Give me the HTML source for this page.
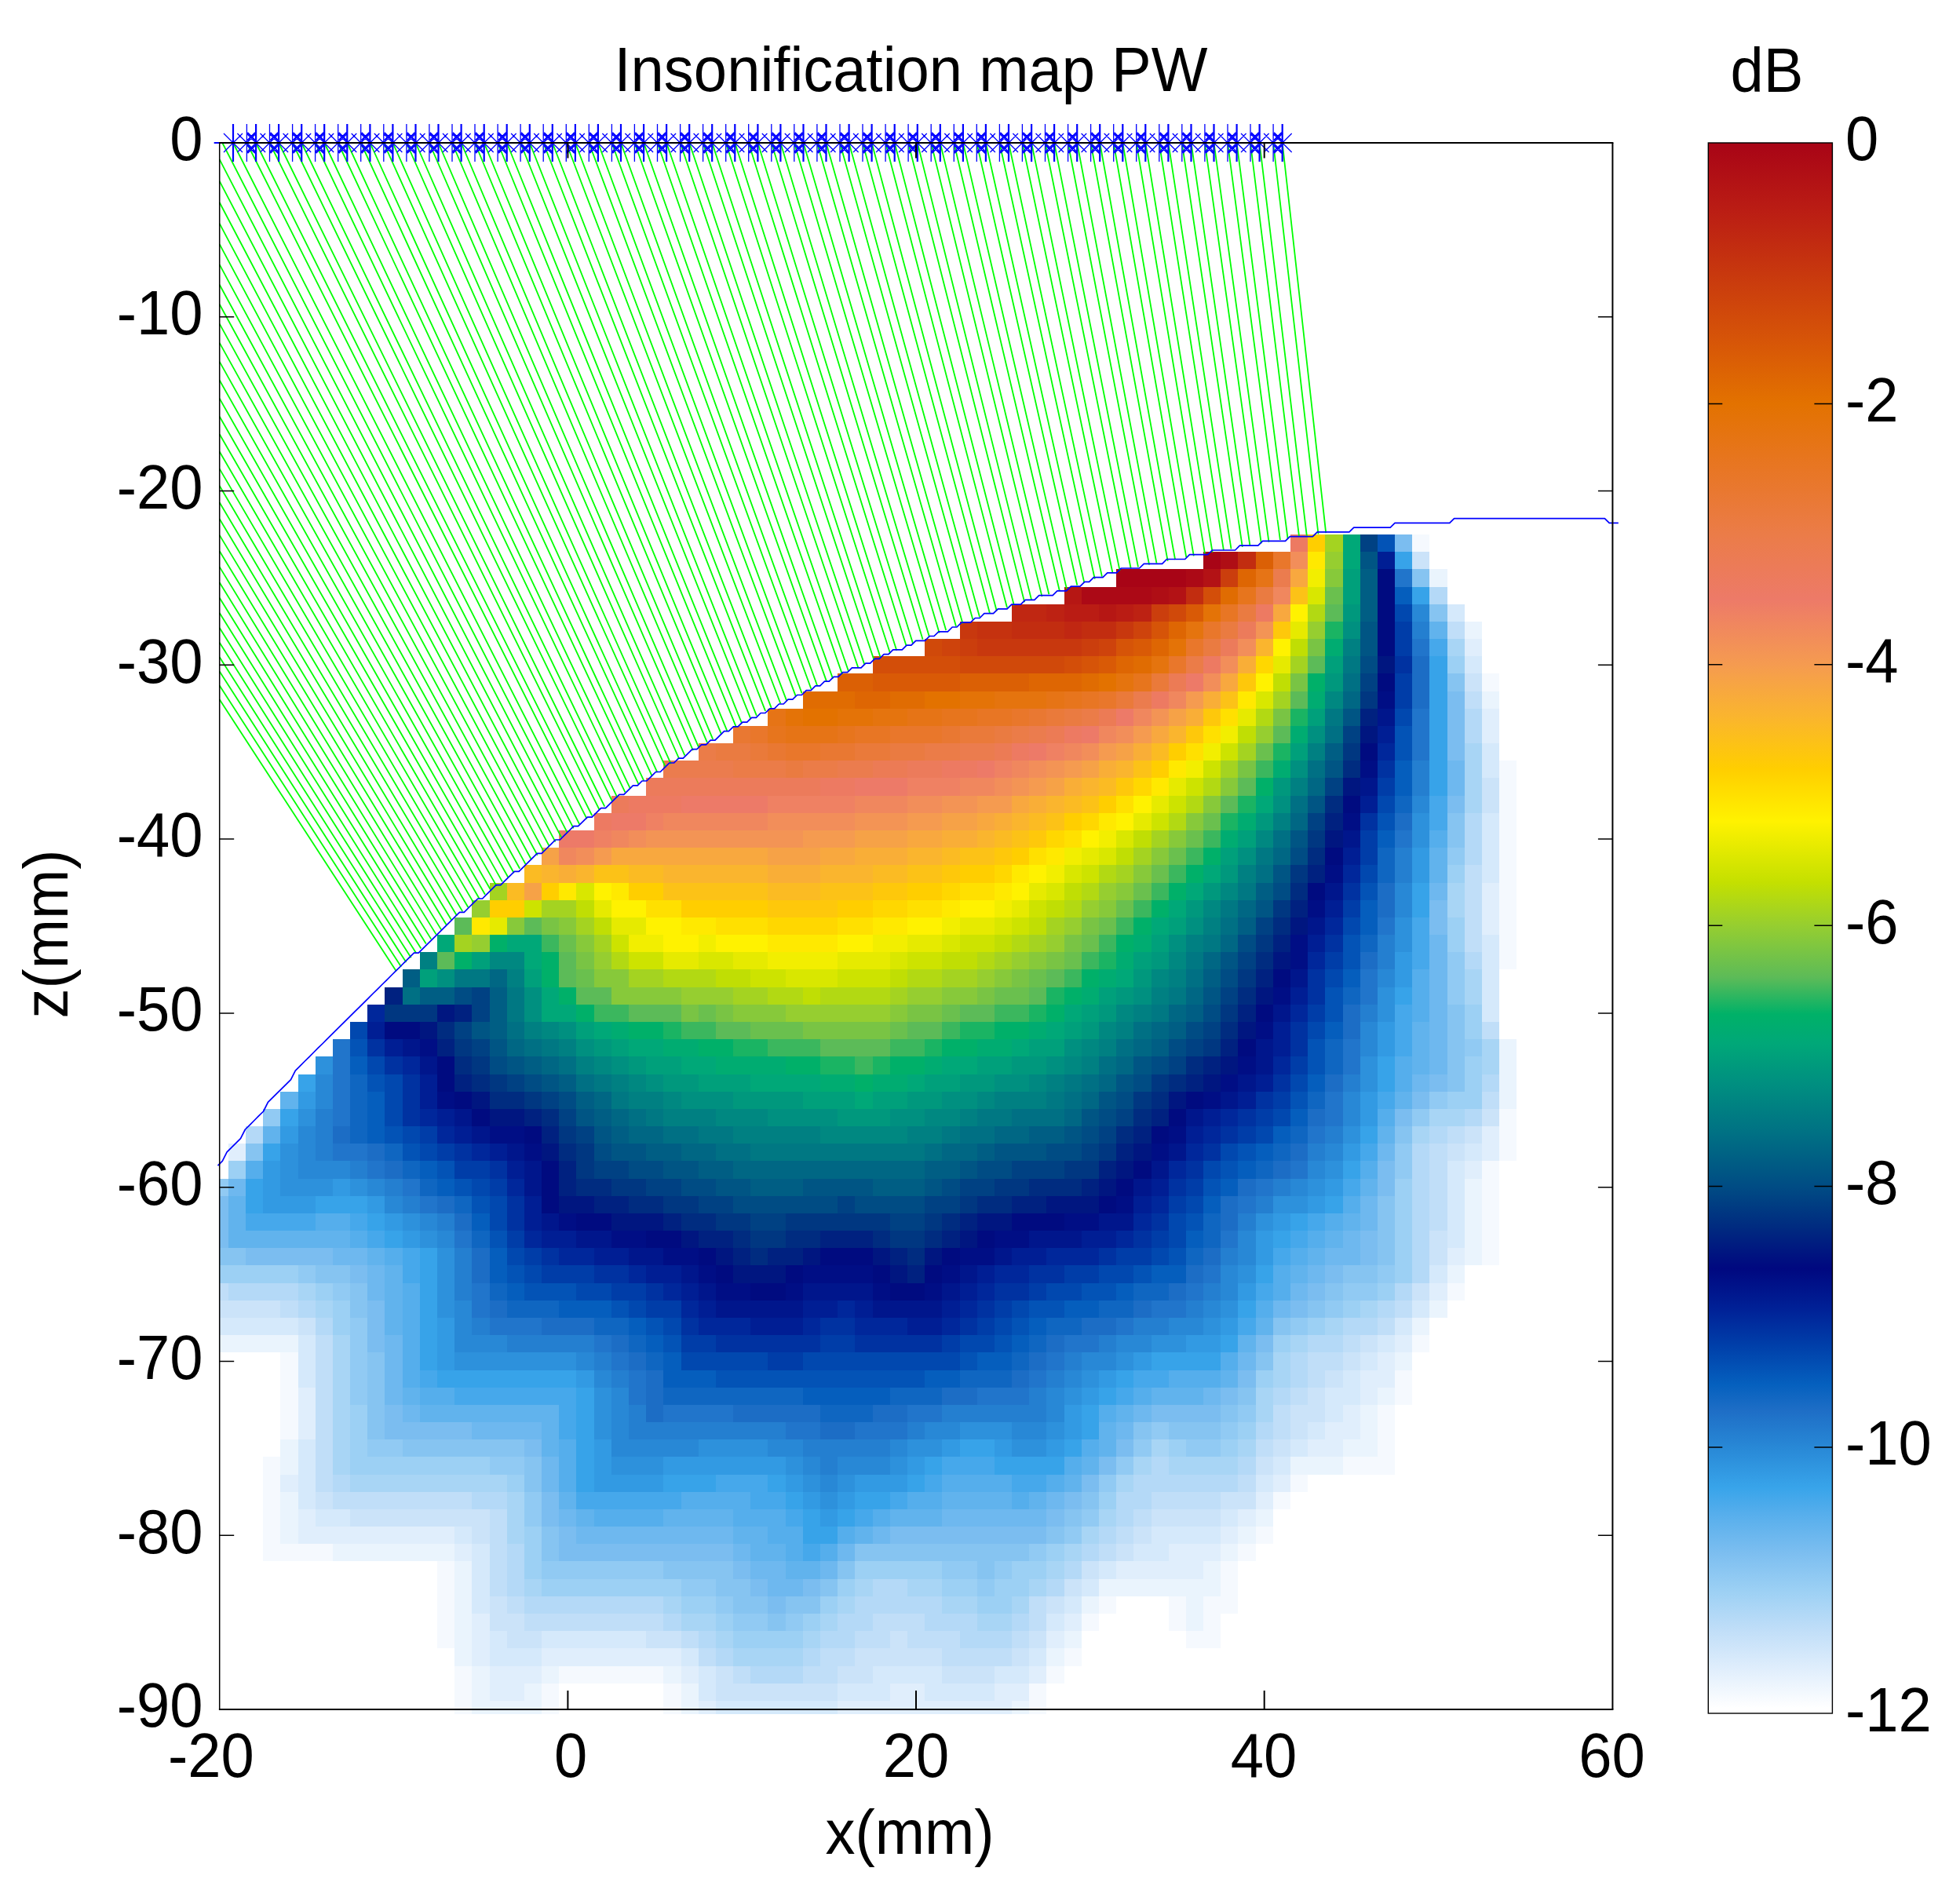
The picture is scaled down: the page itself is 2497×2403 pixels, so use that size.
<!DOCTYPE html>
<html><head><meta charset="utf-8"><title>Insonification map PW</title>
<style>html,body{margin:0;padding:0;background:#fff}svg{display:block}text{font-family:"Liberation Sans",sans-serif;fill:#000}</style></head><body>
<svg width="2497" height="2403" viewBox="0 0 2497 2403">
<rect width="2497" height="2403" fill="#fff"/>
<g shape-rendering="crispEdges">
<path fill="#f5f9fe" d="M1799 681h22v22h-22zM1888 858h22v23h-22zM1910 969h22v22h-22zM1910 991h22v23h-22zM1910 1014h22v22h-22zM1910 1036h22v22h-22zM1910 1058h22v22h-22zM1910 1080h22v22h-22zM1910 1102h22v23h-22zM1910 1125h22v22h-22zM1910 1147h22v22h-22zM1910 1169h22v22h-22zM1910 1191h22v22h-22zM1910 1213h22v22h-22zM1910 1413h22v22h-22zM1910 1435h22v22h-22zM1910 1457h22v22h-22zM1888 1479h22v23h-22zM1888 1502h22v22h-22zM1888 1524h22v22h-22zM1888 1546h22v22h-22zM1888 1568h22v22h-22zM1888 1590h22v22h-22zM1844 1635h22v22h-22zM1799 1701h22v22h-22zM357 1723h23v23h-23zM357 1746h23v22h-23zM1777 1746h22v22h-22zM357 1768h23v22h-23zM1777 1768h22v22h-22zM357 1790h23v22h-23zM1755 1790h22v22h-22zM357 1812h23v22h-23zM1755 1812h22v22h-22zM1755 1834h22v22h-22zM335 1856h22v23h-22zM1711 1856h66v23h-66zM335 1879h22v22h-22zM1644 1879h22v22h-22zM335 1901h22v22h-22zM1622 1901h22v22h-22zM335 1923h22v22h-22zM335 1945h22v22h-22zM1600 1945h22v22h-22zM335 1967h89v22h-89zM1577 1967h23v22h-23zM557 1989h22v23h-22zM1555 1989h22v23h-22zM557 2012h22v22h-22zM1555 2012h22v22h-22zM557 2034h22v22h-22zM1400 2034h22v22h-22zM1489 2034h22v22h-22zM1533 2034h44v22h-44zM557 2056h22v22h-22zM1378 2056h22v22h-22zM1489 2056h22v22h-22zM1533 2056h22v22h-22zM557 2078h22v22h-22zM1511 2078h44v22h-44zM1356 2100h22v23h-22zM579 2123h22v22h-22zM712 2123h133v22h-133zM1333 2123h23v22h-23zM579 2145h22v22h-22zM690 2145h22v22h-22zM845 2145h23v22h-23zM1311 2145h22v22h-22zM579 2167h22v17h-22zM690 2167h22v17h-22zM845 2167h23v17h-23zM1311 2167h22v17h-22z"/>
<path fill="#eaf4fd" d="M1821 725h23v23h-23zM1866 792h22v22h-22zM1888 881h22v22h-22zM1910 1324h22v22h-22zM1910 1346h22v23h-22zM1910 1369h22v22h-22zM1910 1391h22v22h-22zM1866 1502h22v22h-22zM1866 1524h22v22h-22zM1866 1546h22v22h-22zM1866 1568h22v22h-22zM1866 1590h22v22h-22zM1844 1612h22v23h-22zM1821 1657h23v22h-23zM1799 1679h22v22h-22zM280 1701h100v22h-100zM1777 1723h22v23h-22zM1755 1768h22v22h-22zM1733 1790h22v22h-22zM1733 1812h22v22h-22zM357 1834h23v22h-23zM1711 1834h44v22h-44zM357 1856h23v23h-23zM1644 1856h67v23h-67zM357 1901h23v22h-23zM357 1923h23v22h-23zM1600 1923h22v22h-22zM357 1945h23v22h-23zM1577 1945h23v22h-23zM424 1967h155v22h-155zM1555 1967h22v22h-22zM579 1989h22v23h-22zM1533 1989h22v23h-22zM579 2012h22v22h-22zM1400 2012h155v22h-155zM579 2034h22v22h-22zM1378 2034h22v22h-22zM1511 2034h22v22h-22zM579 2056h22v22h-22zM1511 2056h22v22h-22zM579 2078h22v22h-22zM1356 2078h22v22h-22zM579 2100h22v23h-22zM1333 2100h23v23h-23zM601 2123h23v22h-23zM690 2123h22v22h-22zM845 2123h23v22h-23zM601 2145h23v22h-23zM668 2145h22v22h-22zM868 2145h22v22h-22zM601 2167h89v17h-89zM868 2167h22v17h-22zM1289 2167h22v17h-22z"/>
<path fill="#e0eefc" d="M1866 814h22v22h-22zM1888 903h22v22h-22zM1888 925h22v22h-22zM1888 1125h22v22h-22zM1888 1147h22v22h-22zM1888 1169h22v22h-22zM1888 1435h22v22h-22zM291 1457h22v22h-22zM1888 1457h22v22h-22zM1866 1479h22v23h-22zM1844 1590h22v22h-22zM1821 1635h23v22h-23zM1777 1701h22v22h-22zM1755 1723h22v23h-22zM1733 1746h44v22h-44zM380 1768h22v22h-22zM1733 1768h22v22h-22zM380 1790h22v22h-22zM1711 1790h22v22h-22zM380 1812h22v22h-22zM1688 1812h45v22h-45zM1666 1834h45v22h-45zM357 1879h23v22h-23zM1622 1879h22v22h-22zM1600 1901h22v22h-22zM380 1923h22v22h-22zM1577 1923h23v22h-23zM380 1945h199v22h-199zM1555 1945h22v22h-22zM579 1967h22v22h-22zM1489 1967h66v22h-66zM1422 1989h111v23h-111zM601 2056h23v22h-23zM1356 2056h22v22h-22zM601 2078h23v22h-23zM1333 2078h23v22h-23zM601 2100h23v23h-23zM690 2100h178v23h-178zM624 2123h66v22h-66zM868 2123h22v22h-22zM1311 2123h22v22h-22zM624 2145h44v22h-44zM1134 2145h44v22h-44zM1267 2145h44v22h-44zM890 2167h22v17h-22zM1067 2167h222v17h-222z"/>
<path fill="#d5e9fb" d="M1844 770h22v22h-22zM1866 836h22v22h-22zM1888 947h22v22h-22zM1888 969h22v22h-22zM1888 1036h22v22h-22zM1888 1058h22v22h-22zM1888 1080h22v22h-22zM1888 1102h22v23h-22zM1888 1191h22v22h-22zM1888 1213h22v22h-22zM1888 1235h22v23h-22zM1888 1258h22v22h-22zM1888 1280h22v22h-22zM1866 1457h22v22h-22zM1844 1479h22v23h-22zM1844 1502h22v22h-22zM1844 1524h22v22h-22zM1844 1546h22v22h-22zM1844 1568h22v22h-22zM1821 1612h23v23h-23zM1799 1657h22v22h-22zM280 1679h100v22h-100zM1777 1679h22v22h-22zM380 1701h22v22h-22zM1755 1701h22v22h-22zM380 1723h22v23h-22zM1733 1723h22v23h-22zM380 1746h22v22h-22zM1711 1746h22v22h-22zM1688 1768h45v22h-45zM1688 1790h23v22h-23zM1666 1812h22v22h-22zM380 1834h22v22h-22zM1644 1834h22v22h-22zM380 1856h22v23h-22zM1622 1856h22v23h-22zM380 1879h22v22h-22zM1600 1879h22v22h-22zM380 1901h22v22h-22zM402 1923h44v22h-44zM1555 1923h22v22h-22zM579 1945h22v22h-22zM1467 1945h88v22h-88zM601 1967h23v22h-23zM1444 1967h45v22h-45zM601 1989h23v23h-23zM1400 1989h22v23h-22zM601 2012h23v22h-23zM1378 2012h22v22h-22zM601 2034h23v22h-23zM1356 2034h22v22h-22zM1333 2056h23v22h-23zM624 2078h22v22h-22zM690 2078h133v22h-133zM624 2100h66v23h-66zM868 2100h22v23h-22zM1311 2100h22v23h-22zM890 2123h22v22h-22zM1112 2123h88v22h-88zM1267 2123h44v22h-44zM890 2145h22v22h-22zM1067 2145h67v22h-67zM1178 2145h89v22h-89zM912 2167h155v17h-155z"/>
<path fill="#cbe3f9" d="M1799 703h22v22h-22zM1866 858h22v23h-22zM1888 991h22v23h-22zM1888 1014h22v22h-22zM1888 1413h22v22h-22zM1866 1435h22v22h-22zM1844 1457h22v22h-22zM1821 1568h23v22h-23zM1821 1590h23v22h-23zM1799 1635h22v22h-22zM280 1657h77v22h-77zM380 1679h22v22h-22zM1733 1701h22v22h-22zM1711 1723h22v23h-22zM1688 1746h23v22h-23zM1666 1768h22v22h-22zM1644 1790h44v22h-44zM1644 1812h22v22h-22zM1622 1834h22v22h-22zM1600 1856h22v23h-22zM402 1901h22v22h-22zM1555 1901h45v22h-45zM446 1923h178v22h-178zM1467 1923h88v22h-88zM601 1945h23v22h-23zM1444 1945h23v22h-23zM1422 1967h22v22h-22zM1378 1989h22v23h-22zM1356 2012h22v22h-22zM624 2034h22v22h-22zM1333 2034h23v22h-23zM624 2056h44v22h-44zM646 2078h44v22h-44zM823 2078h45v22h-45zM1134 2078h22v22h-22zM1311 2078h22v22h-22zM1089 2100h111v23h-111zM1289 2100h22v23h-22zM912 2123h22v22h-22zM1067 2123h45v22h-45zM1200 2123h67v22h-67zM912 2145h155v22h-155z"/>
<path fill="#c0def8" d="M1844 792h22v22h-22zM1866 881h22v22h-22zM1866 1102h22v23h-22zM1866 1125h22v22h-22zM1866 1147h22v22h-22zM1866 1169h22v22h-22zM1866 1191h22v22h-22zM1888 1302h22v22h-22zM1888 1391h22v22h-22zM1844 1435h22v22h-22zM1821 1457h23v22h-23zM1821 1479h23v23h-23zM1821 1502h23v22h-23zM1821 1524h23v22h-23zM1821 1546h23v22h-23zM280 1635h11v22h-11zM357 1657h23v22h-23zM1777 1657h22v22h-22zM1755 1679h22v22h-22zM402 1701h22v22h-22zM1711 1701h22v22h-22zM402 1723h22v23h-22zM1666 1723h45v23h-45zM402 1746h22v22h-22zM1666 1746h22v22h-22zM402 1768h22v22h-22zM1644 1768h22v22h-22zM402 1790h22v22h-22zM1622 1790h22v22h-22zM402 1812h22v22h-22zM1622 1812h22v22h-22zM402 1834h22v22h-22zM1600 1834h22v22h-22zM402 1856h22v23h-22zM402 1879h22v22h-22zM1577 1879h23v22h-23zM424 1901h177v22h-177zM1467 1901h88v22h-88zM624 1923h22v22h-22zM1444 1923h23v22h-23zM624 1945h22v22h-22zM1422 1945h22v22h-22zM624 1967h22v22h-22zM1400 1967h22v22h-22zM624 1989h22v23h-22zM624 2012h22v22h-22zM646 2034h22v22h-22zM1311 2034h22v22h-22zM668 2056h177v22h-177zM1112 2056h66v22h-66zM1311 2056h22v22h-22zM868 2078h22v22h-22zM1089 2078h45v22h-45zM1156 2078h67v22h-67zM1289 2078h22v22h-22zM890 2100h22v23h-22zM1045 2100h44v23h-44zM1200 2100h89v23h-89zM934 2123h22v22h-22zM1023 2123h44v22h-44z"/>
<path fill="#b4d9f7" d="M1821 748h23v22h-23zM1866 903h22v22h-22zM1866 925h22v22h-22zM1866 1036h22v22h-22zM1866 1058h22v22h-22zM1866 1080h22v22h-22zM1866 1213h22v22h-22zM1888 1369h22v22h-22zM1866 1413h22v22h-22zM313 1435h22v22h-22zM1821 1435h23v22h-23zM1799 1457h22v22h-22zM1799 1479h22v23h-22zM1799 1502h22v22h-22zM1799 1524h22v22h-22zM1799 1546h22v22h-22zM1799 1568h22v22h-22zM1799 1590h22v22h-22zM1799 1612h22v23h-22zM291 1635h89v22h-89zM1777 1635h22v22h-22zM380 1657h22v22h-22zM1755 1657h22v22h-22zM402 1679h22v22h-22zM1711 1679h44v22h-44zM1666 1701h45v22h-45zM1644 1723h22v23h-22zM1644 1746h22v22h-22zM1622 1768h22v22h-22zM1600 1812h22v22h-22zM1467 1856h22v23h-22zM1577 1856h23v23h-23zM424 1879h22v22h-22zM1444 1879h133v22h-133zM601 1901h45v22h-45zM1422 1901h45v22h-45zM1422 1923h22v22h-22zM1400 1945h22v22h-22zM646 1967h22v22h-22zM1378 1967h22v22h-22zM646 1989h22v23h-22zM1356 1989h22v23h-22zM646 2012h22v22h-22zM1112 2012h44v22h-44zM1333 2012h23v22h-23zM668 2034h177v22h-177zM1089 2034h111v22h-111zM845 2056h23v22h-23zM1067 2056h45v22h-45zM1178 2056h67v22h-67zM1289 2056h22v22h-22zM890 2078h22v22h-22zM1045 2078h44v22h-44zM1223 2078h66v22h-66zM912 2100h22v23h-22zM1023 2100h22v23h-22zM956 2123h67v22h-67z"/>
<path fill="#a8d5f5" d="M1844 814h22v22h-22zM1866 947h22v22h-22zM1866 969h22v22h-22zM1866 991h22v23h-22zM1866 1014h22v22h-22zM1844 1125h22v22h-22zM1844 1147h22v22h-22zM1866 1235h22v23h-22zM1866 1258h22v22h-22zM1888 1324h22v22h-22zM1888 1346h22v23h-22zM1821 1413h45v22h-45zM1799 1435h22v22h-22zM380 1635h22v22h-22zM402 1657h22v22h-22zM1733 1657h22v22h-22zM1688 1679h23v22h-23zM424 1701h22v22h-22zM1644 1701h22v22h-22zM424 1723h22v23h-22zM1622 1723h22v23h-22zM424 1746h22v22h-22zM1622 1746h22v22h-22zM424 1768h22v22h-22zM1600 1768h22v22h-22zM424 1790h22v22h-22zM1600 1790h22v22h-22zM424 1812h22v22h-22zM424 1834h22v22h-22zM1467 1834h22v22h-22zM1577 1834h23v22h-23zM424 1856h22v23h-22zM1444 1856h23v23h-23zM1489 1856h88v23h-88zM446 1879h200v22h-200zM1422 1879h22v22h-22zM646 1901h22v22h-22zM646 1923h22v22h-22zM1400 1923h22v22h-22zM646 1945h22v22h-22zM1378 1945h22v22h-22zM1356 1967h22v22h-22zM1333 1989h23v23h-23zM668 2012h22v22h-22zM1089 2012h23v22h-23zM1156 2012h44v22h-44zM1311 2012h22v22h-22zM845 2034h23v22h-23zM1067 2034h22v22h-22zM1200 2034h45v22h-45zM1289 2034h22v22h-22zM868 2056h44v22h-44zM1045 2056h22v22h-22zM1245 2056h44v22h-44zM912 2078h22v22h-22zM1023 2078h22v22h-22zM934 2100h89v23h-89z"/>
<path fill="#9cd0f4" d="M1844 836h22v22h-22zM1844 1102h22v23h-22zM1844 1169h22v22h-22zM1844 1191h22v22h-22zM1866 1280h22v22h-22zM1866 1302h22v22h-22zM1866 1346h22v23h-22zM1866 1369h22v22h-22zM1844 1391h44v22h-44zM291 1479h22v23h-22zM1777 1502h22v22h-22zM1777 1524h22v22h-22zM1777 1546h22v22h-22zM1777 1568h22v22h-22zM1777 1590h22v22h-22zM280 1612h100v23h-100zM1777 1612h22v23h-22zM402 1635h22v22h-22zM1755 1635h22v22h-22zM424 1657h22v22h-22zM1711 1657h22v22h-22zM424 1679h22v22h-22zM1666 1679h22v22h-22zM1622 1701h22v22h-22zM1600 1746h22v22h-22zM446 1790h22v22h-22zM446 1812h22v22h-22zM1577 1812h23v22h-23zM446 1834h22v22h-22zM1489 1834h22v22h-22zM1555 1834h22v22h-22zM446 1856h178v23h-178zM646 1879h22v22h-22zM1400 1901h22v22h-22zM668 1945h22v22h-22zM668 1967h22v22h-22zM1333 1967h23v22h-23zM668 1989h22v23h-22zM1089 1989h111v23h-111zM1289 1989h44v23h-44zM690 2012h178v22h-178zM1067 2012h22v22h-22zM1200 2012h45v22h-45zM1267 2012h44v22h-44zM868 2034h44v22h-44zM1045 2034h22v22h-22zM1245 2034h44v22h-44zM912 2056h22v22h-22zM1023 2056h22v22h-22zM934 2078h89v22h-89z"/>
<path fill="#91caf3" d="M1844 1080h22v22h-22zM1844 1213h22v22h-22zM1844 1235h22v23h-22zM1844 1258h22v22h-22zM1866 1324h22v22h-22zM1821 1391h23v22h-23zM335 1413h22v22h-22zM1799 1413h22v22h-22zM1777 1457h22v22h-22zM1777 1479h22v23h-22zM280 1502h11v22h-11zM380 1612h22v23h-22zM1755 1612h22v23h-22zM424 1635h22v22h-22zM1711 1635h44v22h-44zM1688 1657h23v22h-23zM446 1679h22v22h-22zM1644 1679h22v22h-22zM446 1701h22v22h-22zM446 1723h22v23h-22zM446 1746h22v22h-22zM446 1768h22v22h-22zM1577 1790h23v22h-23zM1467 1812h22v22h-22zM1555 1812h22v22h-22zM468 1834h45v22h-45zM1444 1834h23v22h-23zM1511 1834h44v22h-44zM624 1856h44v23h-44zM1422 1856h22v23h-22zM1400 1879h22v22h-22zM668 1901h22v22h-22zM668 1923h22v22h-22zM1378 1923h22v22h-22zM1356 1945h22v22h-22zM1311 1967h22v22h-22zM690 1989h155v23h-155zM1200 1989h45v23h-45zM1267 1989h22v23h-22zM868 2012h44v22h-44zM1245 2012h22v22h-22zM912 2034h22v22h-22zM934 2056h44v22h-44zM1001 2056h22v22h-22z"/>
<path fill="#86c4f1" d="M1799 725h22v23h-22zM1821 770h23v22h-23zM1844 858h22v23h-22zM1844 1036h22v22h-22zM1844 1058h22v22h-22zM1844 1280h22v22h-22zM1844 1302h22v22h-22zM1844 1324h22v22h-22zM1844 1346h22v23h-22zM1844 1369h22v22h-22zM1777 1435h22v22h-22zM313 1457h22v22h-22zM1755 1524h22v22h-22zM1755 1546h22v22h-22zM1755 1568h22v22h-22zM280 1590h33v22h-33zM1755 1590h22v22h-22zM402 1612h44v23h-44zM1711 1612h44v23h-44zM446 1635h22v22h-22zM1688 1635h23v22h-23zM446 1657h22v22h-22zM1666 1657h22v22h-22zM1622 1679h22v22h-22zM468 1723h22v23h-22zM1600 1723h22v23h-22zM468 1746h22v22h-22zM468 1768h22v22h-22zM1577 1768h23v22h-23zM468 1790h22v22h-22zM1555 1790h22v22h-22zM468 1812h22v22h-22zM1444 1812h23v22h-23zM1489 1812h66v22h-66zM513 1834h155v22h-155zM668 1856h22v23h-22zM668 1879h22v22h-22zM1378 1901h22v22h-22zM1356 1923h22v22h-22zM690 1945h22v22h-22zM1333 1945h23v22h-23zM690 1967h22v22h-22zM1089 1967h222v22h-222zM845 1989h89v23h-89zM1067 1989h22v23h-22zM1245 1989h22v23h-22zM912 2012h44v22h-44zM1045 2012h22v22h-22zM934 2034h44v22h-44zM1001 2034h44v22h-44zM978 2056h23v22h-23z"/>
<path fill="#7bbdf0" d="M1777 681h22v22h-22zM1844 881h22v22h-22zM1844 903h22v22h-22zM1844 925h22v22h-22zM1844 947h22v22h-22zM1844 1014h22v22h-22zM1821 1147h23v22h-23zM1821 1169h23v22h-23zM1821 1369h23v22h-23zM1799 1391h22v22h-22zM1777 1413h22v22h-22zM1755 1479h22v23h-22zM1755 1502h22v22h-22zM280 1524h11v22h-11zM280 1546h11v22h-11zM280 1568h11v22h-11zM1733 1568h22v22h-22zM313 1590h111v22h-111zM1733 1590h22v22h-22zM446 1612h22v23h-22zM1688 1612h23v23h-23zM1666 1635h22v22h-22zM468 1657h22v22h-22zM1644 1657h22v22h-22zM468 1679h22v22h-22zM468 1701h22v22h-22zM1600 1701h22v22h-22zM1577 1746h23v22h-23zM1555 1768h22v22h-22zM490 1790h23v22h-23zM1467 1790h88v22h-88zM490 1812h111v22h-111zM668 1834h22v22h-22zM1422 1834h22v22h-22zM1400 1856h22v23h-22zM1378 1879h22v22h-22zM690 1901h22v22h-22zM1356 1901h22v22h-22zM690 1923h22v22h-22zM1333 1923h23v22h-23zM712 1945h22v22h-22zM1134 1945h199v22h-199zM712 1967h222v22h-222zM934 1989h22v23h-22zM956 2012h22v22h-22zM1023 2012h22v22h-22zM978 2034h23v22h-23z"/>
<path fill="#6eb8ef" d="M1844 969h22v22h-22zM1844 991h22v23h-22zM1821 1125h23v22h-23zM1821 1191h23v22h-23zM1821 1213h23v22h-23zM1821 1235h23v23h-23zM1821 1258h23v22h-23zM1821 1280h23v22h-23zM1821 1302h23v22h-23zM1821 1324h23v22h-23zM1821 1346h23v23h-23zM1799 1369h22v22h-22zM1755 1457h22v22h-22zM291 1502h22v22h-22zM1733 1524h22v22h-22zM1733 1546h22v22h-22zM1711 1568h22v22h-22zM424 1590h44v22h-44zM1688 1590h45v22h-45zM468 1612h22v23h-22zM1666 1612h22v23h-22zM468 1635h22v22h-22zM1644 1635h22v22h-22zM1622 1657h22v22h-22zM490 1701h23v22h-23zM490 1723h23v23h-23zM1577 1723h23v23h-23zM490 1746h23v22h-23zM490 1768h23v22h-23zM1533 1768h22v22h-22zM513 1790h22v22h-22zM1444 1790h23v22h-23zM601 1812h89v22h-89zM1422 1812h22v22h-22zM690 1856h22v23h-22zM690 1879h22v22h-22zM1333 1901h23v22h-23zM712 1923h22v22h-22zM1200 1923h133v22h-133zM734 1945h200v22h-200zM1112 1945h22v22h-22zM934 1967h22v22h-22zM1067 1967h22v22h-22zM956 1989h45v23h-45zM1045 1989h22v23h-22zM978 2012h45v22h-45z"/>
<path fill="#61b3ed" d="M1821 792h23v22h-23zM1821 1080h23v22h-23zM1821 1102h23v23h-23zM1799 1302h22v22h-22zM1799 1324h22v22h-22zM1799 1346h22v23h-22zM357 1391h23v22h-23zM1777 1391h22v22h-22zM335 1435h22v22h-22zM1755 1435h22v22h-22zM1733 1502h22v22h-22zM291 1524h22v22h-22zM291 1546h22v22h-22zM1711 1546h22v22h-22zM291 1568h155v22h-155zM1688 1568h23v22h-23zM468 1590h22v22h-22zM1666 1590h22v22h-22zM490 1612h23v23h-23zM1644 1612h22v23h-22zM490 1635h23v22h-23zM490 1657h23v22h-23zM490 1679h23v22h-23zM1600 1679h22v22h-22zM1577 1701h23v22h-23zM1555 1746h22v22h-22zM513 1768h22v22h-22zM1467 1768h66v22h-66zM535 1790h177v22h-177zM1422 1790h22v22h-22zM690 1812h22v22h-22zM1400 1812h22v22h-22zM690 1834h22v22h-22zM1400 1834h22v22h-22zM1378 1856h22v23h-22zM1356 1879h22v22h-22zM712 1901h22v22h-22zM1200 1901h89v22h-89zM1311 1901h22v22h-22zM734 1923h23v22h-23zM845 1923h89v22h-89zM1134 1923h66v22h-66zM934 1945h44v22h-44zM1089 1945h23v22h-23zM956 1967h45v22h-45zM1001 1989h44v23h-44z"/>
<path fill="#55aeec" d="M1821 1058h23v22h-23zM1799 1235h22v23h-22zM1799 1258h22v22h-22zM1799 1280h22v22h-22zM1777 1346h22v23h-22zM1777 1369h22v22h-22zM1755 1413h22v22h-22zM313 1479h22v23h-22zM1733 1479h22v23h-22zM1711 1524h22v22h-22zM402 1546h44v22h-44zM1688 1546h23v22h-23zM446 1568h22v22h-22zM1666 1568h22v22h-22zM490 1590h23v22h-23zM1644 1590h22v22h-22zM1622 1612h22v23h-22zM513 1635h22v22h-22zM1622 1635h22v22h-22zM513 1657h22v22h-22zM1600 1657h22v22h-22zM513 1679h22v22h-22zM513 1701h22v22h-22zM513 1723h22v23h-22zM1555 1723h22v23h-22zM513 1746h22v22h-22zM1489 1746h66v22h-66zM535 1768h44v22h-44zM1444 1768h23v22h-23zM1400 1790h22v22h-22zM712 1834h22v22h-22zM1378 1834h22v22h-22zM712 1856h22v23h-22zM1356 1856h22v23h-22zM712 1879h22v22h-22zM1200 1879h89v22h-89zM1333 1879h23v22h-23zM868 1901h88v22h-88zM1156 1901h44v22h-44zM1289 1901h22v22h-22zM757 1923h88v22h-88zM934 1923h67v22h-67zM1112 1923h22v22h-22zM978 1945h45v22h-45zM1067 1945h22v22h-22zM1001 1967h22v22h-22zM1045 1967h22v22h-22z"/>
<path fill="#46a8eb" d="M1821 814h23v22h-23zM1821 1014h23v22h-23zM1821 1036h23v22h-23zM1799 1169h22v22h-22zM1799 1191h22v22h-22zM1799 1213h22v22h-22zM1777 1280h22v22h-22zM1777 1302h22v22h-22zM1777 1324h22v22h-22zM1755 1391h22v22h-22zM1733 1457h22v22h-22zM1711 1502h22v22h-22zM313 1546h89v22h-89zM446 1546h22v22h-22zM1666 1546h22v22h-22zM468 1568h22v22h-22zM1644 1568h22v22h-22zM513 1590h22v22h-22zM1622 1590h22v22h-22zM513 1612h22v23h-22zM1600 1635h22v22h-22zM1577 1679h23v22h-23zM535 1746h22v22h-22zM1444 1746h45v22h-45zM579 1768h155v22h-155zM1422 1768h22v22h-22zM712 1790h22v22h-22zM712 1812h22v22h-22zM1200 1856h67v23h-67zM912 1879h66v22h-66zM1178 1879h22v22h-22zM1289 1879h44v22h-44zM734 1901h134v22h-134zM956 1901h45v22h-45zM1134 1901h22v22h-22zM1001 1923h22v22h-22zM1089 1923h23v22h-23zM1023 1967h22v22h-22z"/>
<path fill="#37a3e9" d="M1777 703h22v22h-22zM1799 748h22v22h-22zM1821 836h23v22h-23zM1821 858h23v23h-23zM1821 881h23v22h-23zM1821 903h23v22h-23zM1821 925h23v22h-23zM1821 947h23v22h-23zM1821 969h23v22h-23zM1821 991h23v23h-23zM1799 1125h22v22h-22zM1799 1147h22v22h-22zM1777 1258h22v22h-22zM1755 1346h22v23h-22zM380 1369h22v22h-22zM1755 1369h22v22h-22zM357 1413h23v22h-23zM1733 1435h22v22h-22zM335 1457h22v22h-22zM1711 1479h22v23h-22zM313 1502h22v22h-22zM313 1524h22v22h-22zM402 1524h66v22h-66zM1688 1524h23v22h-23zM468 1546h22v22h-22zM1644 1546h22v22h-22zM490 1568h23v22h-23zM1622 1568h22v22h-22zM535 1590h22v22h-22zM535 1612h22v23h-22zM1600 1612h22v23h-22zM535 1635h22v22h-22zM535 1657h22v22h-22zM1577 1657h23v22h-23zM535 1679h22v22h-22zM535 1701h22v22h-22zM1555 1701h22v22h-22zM535 1723h22v23h-22zM1467 1723h88v23h-88zM557 1746h177v22h-177zM1422 1746h22v22h-22zM734 1768h23v22h-23zM1400 1768h22v22h-22zM734 1790h23v22h-23zM1378 1790h22v22h-22zM734 1812h23v22h-23zM1378 1812h22v22h-22zM734 1834h23v22h-23zM1223 1834h44v22h-44zM1356 1834h22v22h-22zM734 1856h23v23h-23zM1178 1856h22v23h-22zM1267 1856h89v23h-89zM734 1879h23v22h-23zM845 1879h67v22h-67zM978 1879h23v22h-23zM1156 1879h22v22h-22zM1001 1901h22v22h-22zM1089 1901h45v22h-45zM1023 1923h22v22h-22zM1067 1923h22v22h-22zM1023 1945h44v22h-44z"/>
<path fill="#329ae3" d="M1799 1080h22v22h-22zM1799 1102h22v23h-22zM1777 1213h22v22h-22zM1777 1235h22v23h-22zM1755 1302h22v22h-22zM1755 1324h22v22h-22zM380 1391h22v22h-22zM1733 1391h22v22h-22zM1733 1413h22v22h-22zM357 1435h23v22h-23zM1711 1457h22v22h-22zM335 1479h22v23h-22zM335 1502h22v22h-22zM424 1502h22v22h-22zM1688 1502h23v22h-23zM335 1524h67v22h-67zM468 1524h22v22h-22zM1666 1524h22v22h-22zM490 1546h23v22h-23zM1622 1546h22v22h-22zM513 1568h22v22h-22zM1600 1568h22v22h-22zM1600 1590h22v22h-22zM1577 1635h23v22h-23zM557 1679h22v22h-22zM1555 1679h22v22h-22zM557 1701h22v22h-22zM1511 1701h44v22h-44zM557 1723h22v23h-22zM1444 1723h23v23h-23zM734 1746h23v22h-23zM1400 1746h22v22h-22zM1378 1768h22v22h-22zM1356 1790h22v22h-22zM1356 1812h22v22h-22zM757 1834h22v22h-22zM1200 1834h23v22h-23zM1267 1834h22v22h-22zM1333 1834h23v22h-23zM757 1856h22v23h-22zM845 1856h156v23h-156zM1156 1856h22v23h-22zM757 1879h88v22h-88zM1001 1879h22v22h-22zM1089 1879h67v22h-67zM1023 1901h22v22h-22zM1067 1901h22v22h-22zM1045 1923h22v22h-22z"/>
<path fill="#2d91dc" d="M1799 1036h22v22h-22zM1799 1058h22v22h-22zM1777 1169h22v22h-22zM1777 1191h22v22h-22zM1755 1258h22v22h-22zM1755 1280h22v22h-22zM402 1346h22v23h-22zM1733 1346h22v23h-22zM1733 1369h22v22h-22zM380 1413h22v22h-22zM1711 1435h22v22h-22zM357 1457h23v22h-23zM357 1479h23v23h-23zM1688 1479h23v23h-23zM357 1502h67v22h-67zM446 1502h22v22h-22zM1666 1502h22v22h-22zM1622 1524h44v22h-44zM513 1546h22v22h-22zM1600 1546h22v22h-22zM535 1568h22v22h-22zM557 1590h22v22h-22zM557 1612h22v23h-22zM1577 1612h23v23h-23zM557 1635h22v22h-22zM557 1657h22v22h-22zM1555 1657h22v22h-22zM1533 1679h22v22h-22zM1467 1701h44v22h-44zM579 1723h155v23h-155zM1422 1723h22v23h-22zM1378 1746h22v22h-22zM757 1768h22v22h-22zM1356 1768h22v22h-22zM757 1790h22v22h-22zM757 1812h22v22h-22zM1223 1812h66v22h-66zM1333 1812h23v22h-23zM890 1834h88v22h-88zM1156 1834h44v22h-44zM1289 1834h44v22h-44zM779 1856h66v23h-66zM1001 1856h22v23h-22zM1134 1856h22v23h-22zM1023 1879h22v22h-22zM1067 1879h22v22h-22zM1045 1901h22v22h-22z"/>
<path fill="#2888d6" d="M1799 770h22v22h-22zM1799 1014h22v22h-22zM1777 1125h22v22h-22zM1777 1147h22v22h-22zM1755 1235h22v23h-22zM1733 1302h22v22h-22zM1733 1324h22v22h-22zM402 1369h22v22h-22zM402 1391h22v22h-22zM1711 1391h22v22h-22zM1711 1413h22v22h-22zM380 1435h22v22h-22zM380 1457h22v22h-22zM1688 1457h23v22h-23zM380 1479h66v23h-66zM1666 1479h22v23h-22zM468 1502h22v22h-22zM1644 1502h22v22h-22zM490 1524h23v22h-23zM535 1546h22v22h-22zM557 1568h22v22h-22zM1577 1568h23v22h-23zM1577 1590h23v22h-23zM1555 1612h22v23h-22zM1555 1635h22v22h-22zM579 1657h22v22h-22zM1533 1657h22v22h-22zM579 1679h22v22h-22zM1489 1679h44v22h-44zM579 1701h67v22h-67zM1422 1701h45v22h-45zM734 1723h23v23h-23zM1378 1723h44v23h-44zM757 1746h22v22h-22zM1356 1746h22v22h-22zM779 1768h22v22h-22zM1333 1768h23v22h-23zM779 1790h22v22h-22zM1333 1790h23v22h-23zM779 1812h22v22h-22zM1178 1812h45v22h-45zM1289 1812h44v22h-44zM779 1834h111v22h-111zM978 1834h45v22h-45zM1134 1834h22v22h-22zM1023 1856h22v23h-22zM1067 1856h67v23h-67zM1045 1879h22v22h-22z"/>
<path fill="#247fd0" d="M1799 792h22v22h-22zM1799 969h22v22h-22zM1799 991h22v23h-22zM1777 1080h22v22h-22zM1777 1102h22v23h-22zM1755 1191h22v22h-22zM1755 1213h22v22h-22zM1733 1280h22v22h-22zM1711 1369h22v22h-22zM402 1413h22v22h-22zM402 1435h22v22h-22zM1688 1435h23v22h-23zM402 1457h22v22h-22zM1666 1457h22v22h-22zM446 1479h22v23h-22zM490 1502h23v22h-23zM1622 1502h22v22h-22zM513 1524h22v22h-22zM1600 1524h22v22h-22zM557 1546h22v22h-22zM1577 1546h23v22h-23zM579 1590h22v22h-22zM1555 1590h22v22h-22zM579 1612h22v23h-22zM579 1635h22v22h-22zM1533 1635h22v22h-22zM1511 1657h22v22h-22zM601 1679h23v22h-23zM1444 1679h45v22h-45zM646 1701h111v22h-111zM1400 1701h22v22h-22zM757 1723h22v23h-22zM1356 1723h22v23h-22zM779 1746h22v22h-22zM1333 1746h23v22h-23zM1311 1768h22v22h-22zM801 1790h22v22h-22zM1200 1790h133v22h-133zM801 1812h200v22h-200zM1156 1812h22v22h-22zM1023 1834h111v22h-111zM1045 1856h22v23h-22z"/>
<path fill="#2175cb" d="M1777 725h22v23h-22zM1799 814h22v22h-22zM1799 903h22v22h-22zM1799 925h22v22h-22zM1799 947h22v22h-22zM1777 1058h22v22h-22zM1755 1169h22v22h-22zM1733 1235h22v23h-22zM1733 1258h22v22h-22zM424 1324h22v22h-22zM1711 1324h22v22h-22zM424 1346h22v23h-22zM1711 1346h22v23h-22zM424 1369h22v22h-22zM424 1391h22v22h-22zM1688 1391h23v22h-23zM424 1413h22v22h-22zM1688 1413h23v22h-23zM1666 1435h22v22h-22zM424 1457h44v22h-44zM468 1479h22v23h-22zM1644 1479h22v23h-22zM513 1502h22v22h-22zM1600 1502h22v22h-22zM535 1524h22v22h-22zM1577 1524h23v22h-23zM579 1568h22v22h-22zM1555 1568h22v22h-22zM1533 1612h22v23h-22zM601 1635h23v22h-23zM1511 1635h22v22h-22zM601 1657h23v22h-23zM1467 1657h44v22h-44zM624 1679h66v22h-66zM1422 1679h22v22h-22zM757 1701h22v22h-22zM1356 1701h44v22h-44zM779 1723h22v23h-22zM1333 1723h23v23h-23zM801 1746h22v22h-22zM1311 1746h22v22h-22zM801 1768h22v22h-22zM1245 1768h66v22h-66zM845 1790h89v22h-89zM1156 1790h44v22h-44zM1001 1812h44v22h-44zM1089 1812h67v22h-67z"/>
<path fill="#1c6dc5" d="M1799 836h22v22h-22zM1799 858h22v23h-22zM1799 881h22v22h-22zM1777 1036h22v22h-22zM1755 1125h22v22h-22zM1755 1147h22v22h-22zM1733 1213h22v22h-22zM1711 1280h22v22h-22zM1711 1302h22v22h-22zM1688 1369h23v22h-23zM1666 1413h22v22h-22zM424 1435h22v22h-22zM468 1457h22v22h-22zM1644 1457h22v22h-22zM490 1479h23v23h-23zM1622 1479h22v23h-22zM1577 1502h23v22h-23zM557 1524h22v22h-22zM1555 1524h22v22h-22zM579 1546h22v22h-22zM1555 1546h22v22h-22zM601 1590h23v22h-23zM1533 1590h22v22h-22zM601 1612h23v23h-23zM1511 1612h22v23h-22zM1489 1635h22v22h-22zM624 1657h22v22h-22zM1444 1657h23v22h-23zM690 1679h67v22h-67zM1378 1679h44v22h-44zM779 1701h22v22h-22zM1333 1701h23v22h-23zM801 1723h22v23h-22zM1311 1723h22v23h-22zM823 1746h22v22h-22zM1289 1746h22v22h-22zM823 1768h22v22h-22zM1200 1768h45v22h-45zM823 1790h22v22h-22zM934 1790h111v22h-111zM1112 1790h44v22h-44zM1045 1812h44v22h-44z"/>
<path fill="#0f66c1" d="M1777 1014h22v22h-22zM1755 1080h22v22h-22zM1755 1102h22v23h-22zM1733 1191h22v22h-22zM1711 1258h22v22h-22zM1688 1324h23v22h-23zM1688 1346h23v23h-23zM446 1369h22v22h-22zM446 1391h22v22h-22zM1666 1391h22v22h-22zM446 1413h22v22h-22zM446 1435h22v22h-22zM1644 1435h22v22h-22zM490 1457h23v22h-23zM1622 1457h22v22h-22zM513 1479h22v23h-22zM1600 1479h22v23h-22zM535 1502h22v22h-22zM579 1524h22v22h-22zM1533 1546h22v22h-22zM601 1568h23v22h-23zM1533 1568h22v22h-22zM1511 1590h22v22h-22zM624 1635h22v22h-22zM1444 1635h45v22h-45zM646 1657h66v22h-66zM1400 1657h44v22h-44zM757 1679h44v22h-44zM1333 1679h45v22h-45zM801 1701h22v22h-22zM1311 1701h22v22h-22zM823 1723h22v23h-22zM1289 1723h22v23h-22zM1223 1746h66v22h-66zM845 1768h178v22h-178zM1134 1768h66v22h-66zM1045 1790h67v22h-67z"/>
<path fill="#055ebd" d="M1777 748h22v22h-22zM1777 969h22v22h-22zM1777 991h22v23h-22zM1755 1058h22v22h-22zM1733 1147h22v22h-22zM1733 1169h22v22h-22zM1711 1235h22v23h-22zM1688 1302h23v22h-23zM446 1346h22v23h-22zM1666 1369h22v22h-22zM468 1391h22v22h-22zM468 1413h22v22h-22zM1644 1413h22v22h-22zM468 1435h22v22h-22zM1622 1435h22v22h-22zM1600 1457h22v22h-22zM535 1479h22v23h-22zM1577 1479h23v23h-23zM557 1502h22v22h-22zM1555 1502h22v22h-22zM1533 1524h22v22h-22zM601 1546h23v22h-23zM1511 1568h22v22h-22zM624 1590h22v22h-22zM624 1612h22v23h-22zM1467 1612h44v23h-44zM646 1635h22v22h-22zM1422 1635h22v22h-22zM712 1657h67v22h-67zM1356 1657h44v22h-44zM801 1679h22v22h-22zM1311 1679h22v22h-22zM823 1701h22v22h-22zM1289 1701h22v22h-22zM845 1723h23v23h-23zM1245 1723h44v23h-44zM845 1746h67v22h-67zM1178 1746h45v22h-45zM1023 1768h111v22h-111z"/>
<path fill="#0353b6" d="M1755 681h22v22h-22zM1777 925h22v22h-22zM1777 947h22v22h-22zM1755 1036h22v22h-22zM1733 1125h22v22h-22zM1711 1191h22v22h-22zM1711 1213h22v22h-22zM1688 1258h23v22h-23zM1688 1280h23v22h-23zM446 1324h22v22h-22zM1666 1324h22v22h-22zM1666 1346h22v23h-22zM468 1369h22v22h-22zM1644 1391h22v22h-22zM490 1435h23v22h-23zM513 1457h22v22h-22zM1577 1457h23v22h-23zM557 1479h22v23h-22zM1555 1479h22v23h-22zM579 1502h22v22h-22zM1533 1502h22v22h-22zM601 1524h23v22h-23zM1511 1546h22v22h-22zM624 1568h22v22h-22zM1489 1590h22v22h-22zM646 1612h22v23h-22zM1444 1612h23v23h-23zM668 1635h66v22h-66zM1378 1635h44v22h-44zM779 1657h22v22h-22zM1311 1657h45v22h-45zM823 1679h22v22h-22zM1289 1679h22v22h-22zM845 1701h23v22h-23zM1267 1701h22v22h-22zM1223 1723h22v23h-22zM912 1746h266v22h-266z"/>
<path fill="#0148af" d="M1777 770h22v22h-22zM1777 903h22v22h-22zM1755 1014h22v22h-22zM1733 1102h22v23h-22zM1711 1169h22v22h-22zM1688 1235h23v23h-23zM446 1302h22v22h-22zM1666 1302h22v22h-22zM468 1346h22v23h-22zM490 1369h23v22h-23zM1644 1369h22v22h-22zM490 1391h23v22h-23zM490 1413h23v22h-23zM1622 1413h22v22h-22zM513 1435h22v22h-22zM1600 1435h22v22h-22zM535 1457h22v22h-22zM1555 1457h22v22h-22zM1533 1479h22v23h-22zM601 1502h23v22h-23zM624 1524h22v22h-22zM1511 1524h22v22h-22zM624 1546h22v22h-22zM1489 1546h22v22h-22zM1489 1568h22v22h-22zM646 1590h22v22h-22zM1467 1590h22v22h-22zM668 1612h22v23h-22zM1400 1612h44v23h-44zM734 1635h45v22h-45zM1333 1635h45v22h-45zM801 1657h22v22h-22zM1289 1657h22v22h-22zM845 1679h23v22h-23zM1267 1679h22v22h-22zM1223 1701h44v22h-44zM868 1723h110v23h-110zM1023 1723h200v23h-200z"/>
<path fill="#003da8" d="M1777 792h22v22h-22zM1777 814h22v22h-22zM1777 858h22v23h-22zM1777 881h22v22h-22zM1755 991h22v23h-22zM1733 1058h22v22h-22zM1733 1080h22v22h-22zM1711 1147h22v22h-22zM1688 1213h23v22h-23zM1666 1280h22v22h-22zM1644 1346h22v23h-22zM1622 1391h22v22h-22zM1600 1413h22v22h-22zM535 1435h22v22h-22zM1577 1435h23v22h-23zM557 1457h22v22h-22zM579 1479h45v23h-45zM624 1502h22v22h-22zM1511 1502h22v22h-22zM1489 1524h22v22h-22zM646 1568h22v22h-22zM1467 1568h22v22h-22zM668 1590h22v22h-22zM1422 1590h45v22h-45zM690 1612h67v23h-67zM1356 1612h44v23h-44zM779 1635h44v22h-44zM1311 1635h22v22h-22zM823 1657h45v22h-45zM1267 1657h22v22h-22zM1245 1679h22v22h-22zM868 1701h44v22h-44zM1045 1701h44v22h-44zM1200 1701h23v22h-23zM978 1723h45v23h-45z"/>
<path fill="#0032a1" d="M1777 836h22v22h-22zM1755 969h22v22h-22zM1733 1036h22v22h-22zM1711 1125h22v22h-22zM1688 1191h23v22h-23zM1666 1235h22v23h-22zM1666 1258h22v22h-22zM1644 1302h22v22h-22zM468 1324h22v22h-22zM1644 1324h22v22h-22zM490 1346h23v23h-23zM513 1369h22v22h-22zM1622 1369h22v22h-22zM513 1391h22v22h-22zM1600 1391h22v22h-22zM513 1413h22v22h-22zM1577 1413h23v22h-23zM1555 1435h22v22h-22zM579 1457h22v22h-22zM1533 1457h22v22h-22zM624 1479h22v23h-22zM1511 1479h22v23h-22zM1489 1502h22v22h-22zM646 1524h22v22h-22zM646 1546h22v22h-22zM1467 1546h22v22h-22zM1444 1568h23v22h-23zM690 1590h22v22h-22zM1400 1590h22v22h-22zM757 1612h44v23h-44zM1311 1612h45v23h-45zM823 1635h22v22h-22zM1267 1635h44v22h-44zM1245 1657h22v22h-22zM868 1679h22v22h-22zM1045 1679h44v22h-44zM1223 1679h22v22h-22zM912 1701h133v22h-133zM1089 1701h111v22h-111z"/>
<path fill="#00279b" d="M1755 947h22v22h-22zM1711 1102h22v23h-22zM1688 1169h23v22h-23zM1666 1213h22v22h-22zM468 1280h22v22h-22zM1644 1280h22v22h-22zM513 1346h22v23h-22zM1622 1346h22v23h-22zM535 1413h22v22h-22zM1555 1413h22v22h-22zM557 1435h22v22h-22zM1533 1435h22v22h-22zM601 1457h23v22h-23zM1511 1457h22v22h-22zM1489 1479h22v23h-22zM646 1502h22v22h-22zM1467 1524h22v22h-22zM1444 1546h23v22h-23zM668 1568h22v22h-22zM1422 1568h22v22h-22zM712 1590h45v22h-45zM1333 1590h67v22h-67zM801 1612h22v23h-22zM1267 1612h44v23h-44zM845 1635h23v22h-23zM1245 1635h22v22h-22zM868 1657h22v22h-22zM1067 1657h22v22h-22zM1223 1657h22v22h-22zM890 1679h66v22h-66zM1023 1679h22v22h-22zM1089 1679h67v22h-67zM1200 1679h23v22h-23z"/>
<path fill="#001e94" d="M1755 703h22v22h-22zM1755 925h22v22h-22zM1733 1014h22v22h-22zM1711 1080h22v22h-22zM1688 1147h23v22h-23zM1666 1191h22v22h-22zM1644 1258h22v22h-22zM468 1302h22v22h-22zM1622 1302h22v22h-22zM490 1324h23v22h-23zM1622 1324h22v22h-22zM535 1369h22v22h-22zM1600 1369h22v22h-22zM535 1391h22v22h-22zM1577 1391h23v22h-23zM557 1413h22v22h-22zM1533 1413h22v22h-22zM579 1435h22v22h-22zM1511 1435h22v22h-22zM624 1457h22v22h-22zM646 1479h22v23h-22zM1467 1502h22v22h-22zM668 1524h22v22h-22zM1444 1524h23v22h-23zM668 1546h22v22h-22zM690 1568h44v22h-44zM1378 1568h44v22h-44zM757 1590h44v22h-44zM1289 1590h44v22h-44zM823 1612h45v23h-45zM1245 1612h22v23h-22zM868 1635h22v22h-22zM1223 1635h22v22h-22zM890 1657h22v22h-22zM1023 1657h44v22h-44zM1089 1657h23v22h-23zM1200 1657h23v22h-23zM956 1679h67v22h-67zM1156 1679h44v22h-44z"/>
<path fill="#00168c" d="M1755 903h22v22h-22zM1733 991h22v23h-22zM1711 1058h22v22h-22zM1688 1125h23v22h-23zM1666 1169h22v22h-22zM1644 1235h22v23h-22zM1622 1280h22v22h-22zM513 1324h22v22h-22zM1600 1324h22v22h-22zM535 1346h22v23h-22zM1600 1346h22v23h-22zM1577 1369h23v22h-23zM1555 1391h22v22h-22zM579 1413h22v22h-22zM1511 1413h22v22h-22zM601 1435h23v22h-23zM646 1457h22v22h-22zM1489 1457h22v22h-22zM668 1479h22v23h-22zM1467 1479h22v23h-22zM668 1502h22v22h-22zM1444 1502h23v22h-23zM690 1546h22v22h-22zM1400 1546h44v22h-44zM734 1568h45v22h-45zM1311 1568h67v22h-67zM801 1590h44v22h-44zM1267 1590h22v22h-22zM868 1612h22v23h-22zM1223 1612h22v23h-22zM890 1635h22v22h-22zM1023 1635h89v22h-89zM1200 1635h23v22h-23zM912 1657h111v22h-111zM1112 1657h88v22h-88z"/>
<path fill="#000e85" d="M1755 881h22v22h-22zM1733 969h22v22h-22zM1711 1036h22v22h-22zM1688 1102h23v23h-23zM1666 1147h22v22h-22zM1644 1191h22v22h-22zM1644 1213h22v22h-22zM1622 1258h22v22h-22zM1600 1302h22v22h-22zM535 1324h22v22h-22zM1577 1346h23v23h-23zM1555 1369h22v22h-22zM557 1391h22v22h-22zM1533 1391h22v22h-22zM624 1435h44v22h-44zM1489 1435h22v22h-22zM668 1457h22v22h-22zM1467 1457h22v22h-22zM1422 1524h22v22h-22zM712 1546h22v22h-22zM1356 1546h44v22h-44zM779 1568h44v22h-44zM1267 1568h44v22h-44zM845 1590h45v22h-45zM1223 1590h44v22h-44zM890 1612h22v23h-22zM1023 1612h89v23h-89zM1200 1612h23v23h-23zM912 1635h44v22h-44zM1001 1635h22v22h-22zM1112 1635h22v22h-22zM1178 1635h22v22h-22z"/>
<path fill="#000b80" d="M1755 725h22v23h-22zM1755 748h22v22h-22zM1755 770h22v22h-22zM1755 792h22v22h-22zM1755 814h22v22h-22zM1755 858h22v23h-22zM1733 947h22v22h-22zM1711 1014h22v22h-22zM1688 1080h23v22h-23zM1666 1125h22v22h-22zM1622 1235h22v23h-22zM1600 1280h22v22h-22zM490 1302h45v22h-45zM1577 1324h23v22h-23zM557 1346h22v23h-22zM557 1369h22v22h-22zM579 1391h22v22h-22zM1511 1391h22v22h-22zM601 1413h23v22h-23zM1489 1413h22v22h-22zM668 1435h22v22h-22zM1467 1435h22v22h-22zM690 1479h22v23h-22zM1444 1479h23v23h-23zM690 1502h22v22h-22zM1422 1502h22v22h-22zM690 1524h22v22h-22zM1400 1524h22v22h-22zM734 1546h45v22h-45zM1289 1546h67v22h-67zM823 1568h45v22h-45zM1245 1568h22v22h-22zM890 1590h22v22h-22zM1045 1590h67v22h-67zM1200 1590h23v22h-23zM912 1612h22v23h-22zM1001 1612h22v23h-22zM1112 1612h22v23h-22zM1178 1612h22v23h-22zM956 1635h45v22h-45zM1134 1635h44v22h-44z"/>
<path fill="#001680" d="M1755 836h22v22h-22zM1733 925h22v22h-22zM1711 991h22v23h-22zM1688 1058h23v22h-23zM1644 1169h22v22h-22zM1622 1213h22v22h-22zM1600 1258h22v22h-22zM557 1280h22v22h-22zM535 1302h22v22h-22zM1577 1302h23v22h-23zM1555 1346h22v23h-22zM1533 1369h22v22h-22zM601 1391h23v22h-23zM1489 1391h22v22h-22zM624 1413h44v22h-44zM690 1457h22v22h-22zM1444 1457h23v22h-23zM1422 1479h22v23h-22zM1400 1502h22v22h-22zM712 1524h45v22h-45zM1333 1524h67v22h-67zM779 1546h66v22h-66zM1245 1546h44v22h-44zM868 1568h22v22h-22zM1223 1568h22v22h-22zM912 1590h22v22h-22zM1023 1590h22v22h-22zM1112 1590h22v22h-22zM1178 1590h22v22h-22zM934 1612h67v23h-67zM1134 1612h22v23h-22z"/>
<path fill="#002180" d="M1733 903h22v22h-22zM1688 1036h23v22h-23zM1666 1102h22v23h-22zM1644 1147h22v22h-22zM1622 1191h22v22h-22zM1600 1235h22v23h-22zM490 1258h23v22h-23zM579 1280h22v22h-22zM1577 1280h23v22h-23zM557 1324h22v22h-22zM1555 1324h22v22h-22zM1533 1346h22v23h-22zM579 1369h22v22h-22zM1511 1369h22v22h-22zM668 1413h22v22h-22zM1467 1413h22v22h-22zM690 1435h22v22h-22zM1444 1435h23v22h-23zM1422 1457h22v22h-22zM712 1479h22v23h-22zM1400 1479h22v23h-22zM712 1502h22v22h-22zM1378 1502h22v22h-22zM757 1524h44v22h-44zM1289 1524h44v22h-44zM845 1546h23v22h-23zM1223 1546h22v22h-22zM890 1568h44v22h-44zM1045 1568h67v22h-67zM1200 1568h23v22h-23zM934 1590h22v22h-22zM978 1590h45v22h-45zM1134 1590h22v22h-22zM1156 1612h22v23h-22z"/>
<path fill="#002c80" d="M1711 969h22v22h-22zM1688 1014h23v22h-23zM1666 1080h22v22h-22zM1644 1125h22v22h-22zM1622 1169h22v22h-22zM1600 1213h22v22h-22zM1577 1258h23v22h-23zM557 1302h22v22h-22zM1555 1302h22v22h-22zM579 1346h22v23h-22zM1511 1346h22v23h-22zM601 1369h23v22h-23zM1489 1369h22v22h-22zM624 1391h44v22h-44zM1467 1391h22v22h-22zM690 1413h22v22h-22zM1444 1413h23v22h-23zM1422 1435h22v22h-22zM712 1457h22v22h-22zM734 1502h45v22h-45zM1311 1502h67v22h-67zM801 1524h44v22h-44zM1245 1524h44v22h-44zM868 1546h44v22h-44zM1200 1546h23v22h-23zM934 1568h22v22h-22zM1001 1568h44v22h-44zM1112 1568h22v22h-22zM1178 1568h22v22h-22zM956 1590h22v22h-22zM1156 1590h22v22h-22z"/>
<path fill="#003781" d="M1733 881h22v22h-22zM1711 947h22v22h-22zM1666 1058h22v22h-22zM1644 1102h22v23h-22zM1622 1147h22v22h-22zM1600 1191h22v22h-22zM1577 1235h23v23h-23zM490 1280h67v22h-67zM1555 1280h22v22h-22zM579 1324h22v22h-22zM1533 1324h22v22h-22zM601 1346h23v23h-23zM624 1369h22v22h-22zM1467 1369h22v22h-22zM668 1391h22v22h-22zM1444 1391h23v22h-23zM712 1435h22v22h-22zM734 1457h23v22h-23zM1400 1457h22v22h-22zM734 1479h23v23h-23zM1356 1479h44v23h-44zM779 1502h44v22h-44zM1267 1502h44v22h-44zM845 1524h45v22h-45zM1223 1524h22v22h-22zM912 1546h44v22h-44zM1001 1546h133v22h-133zM1178 1546h22v22h-22zM956 1568h45v22h-45zM1134 1568h44v22h-44z"/>
<path fill="#004183" d="M1733 681h22v22h-22zM1733 858h22v23h-22zM1711 925h22v22h-22zM1688 991h23v23h-23zM1666 1036h22v22h-22zM1600 1169h22v22h-22zM1577 1213h23v22h-23zM601 1258h23v22h-23zM1555 1258h22v22h-22zM601 1280h23v22h-23zM579 1302h22v22h-22zM1533 1302h22v22h-22zM601 1324h23v22h-23zM1511 1324h22v22h-22zM1489 1346h22v23h-22zM646 1369h22v22h-22zM690 1391h22v22h-22zM712 1413h22v22h-22zM1422 1413h22v22h-22zM734 1435h23v22h-23zM1400 1435h22v22h-22zM1378 1457h22v22h-22zM757 1479h44v23h-44zM1289 1479h67v23h-67zM823 1502h45v22h-45zM1223 1502h44v22h-44zM890 1524h44v22h-44zM1067 1524h22v22h-22zM1178 1524h45v22h-45zM956 1546h45v22h-45zM1134 1546h44v22h-44z"/>
<path fill="#004c84" d="M1733 836h22v22h-22zM1644 1080h22v22h-22zM1622 1125h22v22h-22zM1577 1191h23v22h-23zM1555 1235h22v23h-22zM579 1258h22v22h-22zM1533 1280h22v22h-22zM1511 1302h22v22h-22zM1489 1324h22v22h-22zM624 1346h22v23h-22zM1467 1346h22v23h-22zM668 1369h22v22h-22zM1444 1369h23v22h-23zM712 1391h22v22h-22zM1422 1391h22v22h-22zM1400 1413h22v22h-22zM1378 1435h22v22h-22zM757 1457h22v22h-22zM1333 1457h45v22h-45zM801 1479h44v23h-44zM1245 1479h44v23h-44zM868 1502h44v22h-44zM1200 1502h23v22h-23zM934 1524h133v22h-133zM1089 1524h89v22h-89z"/>
<path fill="#005584" d="M1733 703h22v22h-22zM1733 792h22v22h-22zM1733 814h22v22h-22zM1711 903h22v22h-22zM1688 969h23v22h-23zM1666 1014h22v22h-22zM1644 1058h22v22h-22zM1622 1102h22v23h-22zM1600 1147h22v22h-22zM1555 1213h22v22h-22zM1533 1258h22v22h-22zM601 1302h23v22h-23zM624 1324h22v22h-22zM646 1346h22v23h-22zM1444 1346h23v23h-23zM690 1369h22v22h-22zM1422 1369h22v22h-22zM1400 1391h22v22h-22zM734 1413h23v22h-23zM1378 1413h22v22h-22zM757 1435h22v22h-22zM1356 1435h22v22h-22zM779 1457h44v22h-44zM1267 1457h66v22h-66zM845 1479h45v23h-45zM1223 1479h22v23h-22zM912 1502h44v22h-44zM1023 1502h89v22h-89zM1178 1502h22v22h-22z"/>
<path fill="#005e84" d="M1733 725h22v23h-22zM1733 748h22v22h-22zM1733 770h22v22h-22zM1688 947h23v22h-23zM1600 1125h22v22h-22zM1577 1169h23v22h-23zM513 1235h22v23h-22zM1533 1235h22v23h-22zM535 1258h44v22h-44zM624 1258h22v22h-22zM624 1280h22v22h-22zM1511 1280h22v22h-22zM624 1302h22v22h-22zM1489 1302h22v22h-22zM1467 1324h22v22h-22zM668 1346h22v23h-22zM712 1369h22v22h-22zM734 1391h23v22h-23zM757 1413h22v22h-22zM779 1435h22v22h-22zM1311 1435h45v22h-45zM823 1457h45v22h-45zM1245 1457h22v22h-22zM890 1479h44v23h-44zM1178 1479h45v23h-45zM956 1502h67v22h-67zM1112 1502h66v22h-66z"/>
<path fill="#006784" d="M1711 881h22v22h-22zM1666 991h22v23h-22zM1644 1036h22v22h-22zM1622 1080h22v22h-22zM1577 1147h23v22h-23zM1555 1191h22v22h-22zM1533 1213h22v22h-22zM624 1235h22v23h-22zM1511 1258h22v22h-22zM1489 1280h22v22h-22zM1467 1302h22v22h-22zM646 1324h22v22h-22zM1444 1324h23v22h-23zM690 1346h22v23h-22zM1422 1346h22v23h-22zM1400 1369h22v22h-22zM757 1391h22v22h-22zM1378 1391h22v22h-22zM779 1413h22v22h-22zM1356 1413h22v22h-22zM801 1435h44v22h-44zM1267 1435h44v22h-44zM868 1457h44v22h-44zM1200 1457h45v22h-45zM934 1479h244v23h-244z"/>
<path fill="#007084" d="M1711 858h22v23h-22zM1688 925h23v22h-23zM1666 969h22v22h-22zM1644 1014h22v22h-22zM1622 1058h22v22h-22zM1600 1102h22v23h-22zM1555 1169h22v22h-22zM1511 1235h22v23h-22zM513 1258h22v22h-22zM646 1302h22v22h-22zM1444 1302h23v22h-23zM668 1324h22v22h-22zM1422 1324h22v22h-22zM712 1346h22v23h-22zM1400 1346h22v23h-22zM734 1369h23v22h-23zM1378 1369h22v22h-22zM1356 1391h22v22h-22zM801 1413h22v22h-22zM1289 1413h67v22h-67zM845 1435h45v22h-45zM1223 1435h44v22h-44zM912 1457h44v22h-44zM1178 1457h22v22h-22z"/>
<path fill="#007883" d="M1711 836h22v22h-22zM1688 903h23v22h-23zM1600 1080h22v22h-22zM1577 1125h23v22h-23zM1555 1147h22v22h-22zM1533 1191h22v22h-22zM1511 1213h22v22h-22zM579 1235h45v23h-45zM646 1258h22v22h-22zM1489 1258h22v22h-22zM646 1280h22v22h-22zM1467 1280h22v22h-22zM690 1324h22v22h-22zM757 1369h22v22h-22zM1356 1369h22v22h-22zM779 1391h22v22h-22zM1333 1391h23v22h-23zM823 1413h22v22h-22zM1245 1413h44v22h-44zM890 1435h44v22h-44zM1200 1435h23v22h-23zM956 1457h222v22h-222z"/>
<path fill="#008082" d="M1711 814h22v22h-22zM1666 947h22v22h-22zM1644 991h22v23h-22zM1622 1036h22v22h-22zM1577 1102h23v23h-23zM1533 1169h22v22h-22zM1511 1191h22v22h-22zM535 1213h22v22h-22zM646 1235h22v23h-22zM1489 1235h22v23h-22zM1467 1258h22v22h-22zM1444 1280h23v22h-23zM668 1302h22v22h-22zM1422 1302h22v22h-22zM712 1324h22v22h-22zM1400 1324h22v22h-22zM734 1346h23v23h-23zM1378 1346h22v23h-22zM779 1369h22v22h-22zM1333 1369h23v22h-23zM801 1391h44v22h-44zM1267 1391h66v22h-66zM845 1413h67v22h-67zM1223 1413h22v22h-22zM934 1435h111v22h-111zM1156 1435h44v22h-44z"/>
<path fill="#008881" d="M1688 881h23v22h-23zM1600 1058h22v22h-22zM1555 1125h22v22h-22zM1533 1147h22v22h-22zM624 1213h44v22h-44zM1489 1213h22v22h-22zM1467 1235h22v23h-22zM1422 1280h22v22h-22zM690 1302h22v22h-22zM1400 1302h22v22h-22zM1378 1324h22v22h-22zM757 1346h22v23h-22zM1356 1346h22v23h-22zM801 1369h22v22h-22zM1311 1369h22v22h-22zM845 1391h23v22h-23zM1245 1391h22v22h-22zM912 1413h66v22h-66zM1178 1413h45v22h-45zM1045 1435h111v22h-111z"/>
<path fill="#009080" d="M1711 792h22v22h-22zM1666 925h22v22h-22zM1644 969h22v22h-22zM1622 1014h22v22h-22zM1577 1080h23v22h-23zM1511 1169h22v22h-22zM1489 1191h22v22h-22zM557 1235h22v23h-22zM668 1258h22v22h-22zM1444 1258h23v22h-23zM668 1280h22v22h-22zM712 1302h22v22h-22zM734 1324h23v22h-23zM1356 1324h22v22h-22zM779 1346h22v23h-22zM1333 1346h23v23h-23zM823 1369h22v22h-22zM1267 1369h44v22h-44zM868 1391h66v22h-66zM1200 1391h45v22h-45zM978 1413h89v22h-89zM1134 1413h44v22h-44z"/>
<path fill="#00987d" d="M1711 770h22v22h-22zM1688 858h23v23h-23zM1622 991h22v23h-22zM1600 1036h22v22h-22zM1555 1102h22v23h-22zM1533 1125h22v22h-22zM1511 1147h22v22h-22zM1467 1213h22v22h-22zM1444 1235h23v23h-23zM1422 1258h22v22h-22zM1400 1280h22v22h-22zM1378 1302h22v22h-22zM757 1324h22v22h-22zM801 1346h22v23h-22zM1289 1346h44v23h-44zM845 1369h45v22h-45zM1223 1369h44v22h-44zM934 1391h89v22h-89zM1156 1391h44v22h-44zM1067 1413h67v22h-67z"/>
<path fill="#00a07b" d="M1711 725h22v23h-22zM1711 748h22v22h-22zM1688 836h23v22h-23zM1666 903h22v22h-22zM1644 947h22v22h-22zM1577 1058h23v22h-23zM1555 1080h22v22h-22zM1489 1169h22v22h-22zM1467 1191h22v22h-22zM601 1213h23v22h-23zM1444 1213h23v22h-23zM535 1235h22v23h-22zM668 1235h22v23h-22zM1400 1258h22v22h-22zM1378 1280h22v22h-22zM734 1302h23v22h-23zM1356 1302h22v22h-22zM779 1324h22v22h-22zM1311 1324h45v22h-45zM823 1346h45v23h-45zM1245 1346h44v23h-44zM890 1369h66v22h-66zM1178 1369h45v22h-45zM1023 1391h66v22h-66zM1112 1391h44v22h-44z"/>
<path fill="#00a878" d="M1711 681h22v22h-22zM1711 703h22v22h-22zM1600 1014h22v22h-22zM1533 1102h22v23h-22zM1511 1125h22v22h-22zM1489 1147h22v22h-22zM1467 1169h22v22h-22zM557 1191h22v22h-22zM646 1191h44v22h-44zM668 1213h22v22h-22zM1422 1235h22v23h-22zM690 1258h22v22h-22zM690 1280h44v22h-44zM1356 1280h22v22h-22zM757 1302h22v22h-22zM1333 1302h23v22h-23zM801 1324h44v22h-44zM1289 1324h22v22h-22zM868 1346h44v23h-44zM1200 1346h45v23h-45zM956 1369h89v22h-89zM1156 1369h22v22h-22zM1089 1391h23v22h-23z"/>
<path fill="#00ac71" d="M1688 814h23v22h-23zM1666 881h22v22h-22zM1644 925h22v22h-22zM1622 969h22v22h-22zM1577 1036h23v22h-23zM1555 1058h22v22h-22zM1444 1191h23v22h-23zM1422 1213h22v22h-22zM1400 1235h22v23h-22zM1378 1258h22v22h-22zM779 1302h22v22h-22zM1311 1302h22v22h-22zM845 1324h45v22h-45zM1245 1324h44v22h-44zM912 1346h89v23h-89zM1178 1346h22v23h-22zM1045 1369h44v22h-44zM1112 1369h44v22h-44z"/>
<path fill="#00b069" d="M1666 858h22v23h-22zM1600 991h22v23h-22zM1533 1080h22v22h-22zM1511 1102h22v23h-22zM1489 1125h22v22h-22zM1467 1147h22v22h-22zM1444 1169h23v22h-23zM624 1191h22v22h-22zM1422 1191h22v22h-22zM579 1213h22v22h-22zM690 1213h22v22h-22zM690 1235h22v23h-22zM1378 1235h22v23h-22zM712 1258h22v22h-22zM1356 1258h22v22h-22zM734 1280h23v22h-23zM1333 1280h23v22h-23zM801 1302h44v22h-44zM1267 1302h44v22h-44zM890 1324h44v22h-44zM1200 1324h45v22h-45zM1001 1346h44v23h-44zM1134 1346h44v23h-44zM1089 1369h23v22h-23z"/>
<path fill="#1ab463" d="M1688 792h23v22h-23zM1644 903h22v22h-22zM1622 947h22v22h-22zM1577 1014h23v22h-23zM1555 1036h22v22h-22zM1400 1213h22v22h-22zM1333 1258h23v22h-23zM1311 1280h22v22h-22zM845 1302h23v22h-23zM1223 1302h44v22h-44zM934 1324h44v22h-44zM1178 1324h22v22h-22zM1045 1346h44v23h-44zM1112 1346h22v23h-22z"/>
<path fill="#3bb75e" d="M1600 969h22v22h-22zM1533 1058h22v22h-22zM1511 1080h22v22h-22zM1489 1102h22v23h-22zM1467 1125h22v22h-22zM1444 1147h23v22h-23zM1422 1169h22v22h-22zM690 1191h22v22h-22zM1400 1191h22v22h-22zM1378 1213h22v22h-22zM1356 1235h22v23h-22zM757 1280h44v22h-44zM1267 1280h44v22h-44zM868 1302h44v22h-44zM1200 1302h23v22h-23zM978 1324h67v22h-67zM1134 1324h44v22h-44zM1089 1346h23v23h-23z"/>
<path fill="#5cbb58" d="M1688 770h23v22h-23zM1666 836h22v22h-22zM1644 881h22v22h-22zM1622 925h22v22h-22zM1577 991h23v23h-23zM1555 1014h22v22h-22zM579 1169h22v22h-22zM668 1169h22v22h-22zM557 1213h22v22h-22zM712 1213h22v22h-22zM712 1235h22v23h-22zM1333 1235h23v23h-23zM734 1258h45v22h-45zM1311 1258h22v22h-22zM801 1280h67v22h-67zM1223 1280h44v22h-44zM912 1302h44v22h-44zM1156 1302h44v22h-44zM1045 1324h89v22h-89z"/>
<path fill="#6ac04e" d="M1688 748h23v22h-23zM1600 947h22v22h-22zM1533 1036h22v22h-22zM1511 1058h22v22h-22zM1489 1080h22v22h-22zM1467 1102h22v23h-22zM1444 1125h23v22h-23zM1422 1147h22v22h-22zM1400 1169h22v22h-22zM712 1191h22v22h-22zM1378 1191h22v22h-22zM1356 1213h22v22h-22zM734 1235h23v23h-23zM1311 1235h22v23h-22zM1267 1258h44v22h-44zM890 1280h22v22h-22zM1200 1280h23v22h-23zM956 1302h67v22h-67zM1134 1302h22v22h-22z"/>
<path fill="#79c444" d="M1666 814h22v22h-22zM1644 858h22v23h-22zM1622 903h22v22h-22zM1577 969h23v22h-23zM690 1169h22v22h-22zM1378 1169h22v22h-22zM1356 1191h22v22h-22zM734 1213h23v22h-23zM1333 1213h23v22h-23zM1289 1235h22v23h-22zM1245 1258h22v22h-22zM868 1280h22v22h-22zM912 1280h22v22h-22zM1156 1280h44v22h-44zM1023 1302h111v22h-111z"/>
<path fill="#87c93a" d="M1688 725h23v23h-23zM1555 991h22v23h-22zM1533 1014h22v22h-22zM1511 1036h22v22h-22zM1489 1058h22v22h-22zM1467 1080h22v22h-22zM1444 1102h23v23h-23zM1422 1125h22v22h-22zM1400 1147h22v22h-22zM646 1169h22v22h-22zM712 1169h22v22h-22zM734 1191h23v22h-23zM1311 1213h22v22h-22zM757 1235h44v23h-44zM1267 1235h22v23h-22zM779 1258h89v22h-89zM1200 1258h45v22h-45zM934 1280h67v22h-67zM1134 1280h22v22h-22z"/>
<path fill="#96ce30" d="M1688 703h23v22h-23zM1666 792h22v22h-22zM1600 925h22v22h-22zM1400 1125h22v22h-22zM601 1147h23v22h-23zM1378 1147h22v22h-22zM1356 1169h22v22h-22zM601 1191h23v22h-23zM1333 1191h23v22h-23zM757 1213h22v22h-22zM1289 1213h22v22h-22zM1245 1235h22v23h-22zM868 1258h66v22h-66zM1156 1258h44v22h-44zM1001 1280h133v22h-133z"/>
<path fill="#a4d321" d="M1688 681h23v22h-23zM1644 836h22v22h-22zM1622 881h22v22h-22zM1577 947h23v22h-23zM1555 969h22v22h-22zM1467 1058h22v22h-22zM1444 1080h23v22h-23zM1422 1102h22v23h-22zM624 1125h22v22h-22zM690 1147h44v22h-44zM734 1169h23v22h-23zM1333 1169h23v22h-23zM579 1191h22v22h-22zM757 1191h22v22h-22zM1311 1191h22v22h-22zM1267 1213h22v22h-22zM801 1235h44v23h-44zM1200 1235h45v23h-45zM934 1258h44v22h-44zM1134 1258h22v22h-22z"/>
<path fill="#b2d913" d="M1666 770h22v22h-22zM1600 903h22v22h-22zM1533 991h22v23h-22zM1511 1014h22v22h-22zM1489 1036h22v22h-22zM1400 1102h22v23h-22zM1378 1125h22v22h-22zM1356 1147h22v22h-22zM1289 1191h22v22h-22zM779 1213h22v22h-22zM1245 1213h22v22h-22zM845 1235h67v23h-67zM1156 1235h44v23h-44zM978 1258h45v22h-45zM1045 1258h89v22h-89z"/>
<path fill="#c0de04" d="M1644 814h22v22h-22zM1622 858h22v23h-22zM1577 925h23v22h-23zM1444 1058h23v22h-23zM1422 1080h22v22h-22zM1356 1125h22v22h-22zM734 1147h23v22h-23zM1333 1147h23v22h-23zM757 1169h22v22h-22zM1311 1169h22v22h-22zM1267 1191h22v22h-22zM1200 1213h45v22h-45zM912 1235h44v23h-44zM1134 1235h22v23h-22zM1023 1258h22v22h-22z"/>
<path fill="#cde300" d="M1555 947h22v22h-22zM1533 969h22v22h-22zM1511 991h22v23h-22zM1489 1014h22v22h-22zM1467 1036h22v22h-22zM1378 1102h22v23h-22zM668 1147h22v22h-22zM1311 1147h22v22h-22zM1289 1169h22v22h-22zM779 1191h22v22h-22zM1223 1191h44v22h-44zM801 1213h44v22h-44zM1156 1213h44v22h-44zM956 1235h45v23h-45zM1067 1235h67v23h-67z"/>
<path fill="#d9e700" d="M1666 748h22v22h-22zM1600 881h22v22h-22zM1422 1058h22v22h-22zM1400 1080h22v22h-22zM1356 1102h22v23h-22zM734 1125h23v22h-23zM1333 1125h23v22h-23zM1267 1169h22v22h-22zM1200 1191h23v22h-23zM890 1213h44v22h-44zM1134 1213h22v22h-22zM1001 1235h66v23h-66z"/>
<path fill="#e6ea00" d="M1644 792h22v22h-22zM1622 836h22v22h-22zM1577 903h23v22h-23zM1489 991h22v23h-22zM1467 1014h22v22h-22zM1444 1036h23v22h-23zM1378 1080h22v22h-22zM1311 1125h22v22h-22zM757 1147h22v22h-22zM1289 1147h22v22h-22zM624 1169h22v22h-22zM779 1169h44v22h-44zM1223 1169h44v22h-44zM1156 1191h44v22h-44zM845 1213h45v22h-45zM934 1213h44v22h-44zM1067 1213h67v22h-67z"/>
<path fill="#f2ee00" d="M1666 725h22v23h-22zM1555 925h22v22h-22zM1533 947h22v22h-22zM1511 969h22v22h-22zM1400 1058h22v22h-22zM1356 1080h22v22h-22zM1333 1102h23v23h-23zM1267 1147h22v22h-22zM1200 1169h23v22h-23zM801 1191h44v22h-44zM890 1191h22v22h-22zM1112 1191h44v22h-44zM978 1213h89v22h-89z"/>
<path fill="#fff200" d="M1644 770h22v22h-22zM1622 814h22v22h-22zM1600 858h22v23h-22zM1444 1014h23v22h-23zM1422 1036h22v22h-22zM1378 1058h22v22h-22zM1311 1102h22v23h-22zM757 1125h22v22h-22zM1289 1125h22v22h-22zM779 1147h44v22h-44zM1223 1147h44v22h-44zM823 1169h45v22h-45zM1156 1169h44v22h-44zM845 1191h45v22h-45zM912 1191h66v22h-66zM1067 1191h45v22h-45z"/>
<path fill="#ffe900" d="M1666 703h22v22h-22zM1577 881h23v22h-23zM1489 969h22v22h-22zM1467 991h22v23h-22zM1400 1036h22v22h-22zM1333 1080h23v22h-23zM1289 1102h22v23h-22zM712 1125h22v22h-22zM779 1125h22v22h-22zM1267 1125h22v22h-22zM1200 1147h23v22h-23zM601 1169h23v22h-23zM868 1169h44v22h-44zM1112 1169h44v22h-44zM978 1191h89v22h-89z"/>
<path fill="#ffe000" d="M1555 903h22v22h-22zM1533 925h22v22h-22zM1511 947h22v22h-22zM1422 1014h22v22h-22zM1356 1058h22v22h-22zM1311 1080h22v22h-22zM1223 1125h44v22h-44zM823 1147h45v22h-45zM1156 1147h44v22h-44zM912 1169h66v22h-66zM1067 1169h45v22h-45z"/>
<path fill="#ffd700" d="M1600 836h22v22h-22zM1444 991h23v23h-23zM1378 1036h22v22h-22zM1333 1058h23v22h-23zM1267 1102h22v23h-22zM1200 1125h23v22h-23zM1112 1147h44v22h-44zM978 1169h89v22h-89z"/>
<path fill="#ffce00" d="M1666 681h22v22h-22zM1489 947h22v22h-22zM1467 969h22v22h-22zM1400 1014h22v22h-22zM1356 1036h22v22h-22zM1289 1080h22v22h-22zM1223 1102h44v23h-44zM690 1125h22v22h-22zM801 1125h44v22h-44zM1156 1125h44v22h-44zM624 1147h44v22h-44zM868 1147h110v22h-110zM1067 1147h45v22h-45z"/>
<path fill="#fec80b" d="M1622 792h22v22h-22zM1577 858h23v23h-23zM1533 903h22v22h-22zM1511 925h22v22h-22zM1422 991h22v23h-22zM1311 1058h22v22h-22zM1267 1080h22v22h-22zM1200 1102h23v23h-23zM1112 1125h44v22h-44zM978 1147h89v22h-89z"/>
<path fill="#fcc217" d="M1644 748h22v22h-22zM1555 881h22v22h-22zM1444 969h23v22h-23zM1378 1014h22v22h-22zM1333 1036h23v22h-23zM1289 1058h22v22h-22zM1223 1080h44v22h-44zM757 1102h44v23h-44zM1156 1102h44v23h-44zM845 1125h133v22h-133zM1045 1125h67v22h-67z"/>
<path fill="#fbbb23" d="M1467 947h22v22h-22zM1400 991h22v23h-22zM1356 1014h22v22h-22zM1311 1036h22v22h-22zM1267 1058h22v22h-22zM1200 1080h23v22h-23zM668 1102h22v23h-22zM801 1102h44v23h-44zM1112 1102h44v23h-44zM646 1125h22v22h-22zM978 1125h67v22h-67z"/>
<path fill="#fab52e" d="M1600 814h22v22h-22zM1489 925h22v22h-22zM1422 969h22v22h-22zM1378 991h22v23h-22zM1333 1014h23v22h-23zM1289 1036h22v22h-22zM1245 1058h22v22h-22zM1156 1080h44v22h-44zM690 1102h22v23h-22zM734 1102h23v23h-23zM845 1102h133v23h-133zM1045 1102h67v23h-67z"/>
<path fill="#f9ae37" d="M1577 836h23v22h-23zM1533 881h22v22h-22zM1511 903h22v22h-22zM1444 947h23v22h-23zM1400 969h22v22h-22zM1356 991h22v23h-22zM1311 1014h22v22h-22zM1267 1036h22v22h-22zM1200 1058h45v22h-45zM1089 1080h67v22h-67zM712 1102h22v23h-22zM978 1102h67v23h-67z"/>
<path fill="#f8a83f" d="M1644 725h22v23h-22zM1622 770h22v22h-22zM1555 858h22v23h-22zM1467 925h22v22h-22zM1289 1014h22v22h-22zM1245 1036h22v22h-22zM1156 1058h44v22h-44zM779 1080h199v22h-199zM1045 1080h44v22h-44z"/>
<path fill="#f6a247" d="M1489 903h22v22h-22zM1422 947h22v22h-22zM1378 969h22v22h-22zM1333 991h23v23h-23zM1200 1036h45v22h-45zM1089 1058h67v22h-67zM690 1080h22v22h-22zM978 1080h67v22h-67zM668 1125h22v22h-22z"/>
<path fill="#f59b50" d="M1511 881h22v22h-22zM1444 925h23v22h-23zM1400 947h22v22h-22zM1356 969h22v22h-22zM1311 991h22v23h-22zM1245 1014h44v22h-44zM1156 1036h44v22h-44zM1023 1058h66v22h-66zM757 1080h22v22h-22z"/>
<path fill="#f39455" d="M1600 792h22v22h-22zM1467 903h22v22h-22zM1333 969h23v22h-23zM1289 991h22v23h-22zM1200 1014h45v22h-45zM1089 1036h67v22h-67zM823 1058h200v22h-200z"/>
<path fill="#f28e5a" d="M1644 703h22v22h-22zM1577 814h23v22h-23zM1555 836h22v22h-22zM1533 858h22v23h-22zM1422 925h22v22h-22zM1378 947h22v22h-22zM1311 969h22v22h-22zM1267 991h22v23h-22zM1156 1014h44v22h-44zM978 1036h111v22h-111zM801 1058h22v22h-22zM734 1080h23v22h-23z"/>
<path fill="#f0875e" d="M1622 748h22v22h-22zM1489 881h22v22h-22zM1444 903h23v22h-23zM1400 925h22v22h-22zM1356 947h22v22h-22zM1289 969h22v22h-22zM1223 991h44v23h-44zM1089 1014h67v22h-67zM845 1036h133v22h-133zM779 1058h22v22h-22zM712 1080h22v22h-22z"/>
<path fill="#ef8163" d="M1333 947h23v22h-23zM1267 969h22v22h-22zM1156 991h67v23h-67zM978 1014h111v22h-111zM823 1036h22v22h-22zM757 1058h22v22h-22z"/>
<path fill="#ed7a68" d="M1511 858h22v23h-22zM1422 903h22v22h-22zM1378 925h22v22h-22zM1311 947h22v22h-22zM1245 969h22v22h-22zM1089 991h67v23h-67zM868 1014h110v22h-110zM779 1036h44v22h-44zM712 1058h45v22h-45z"/>
<path fill="#ed7a62" d="M1644 681h22v22h-22zM1600 770h22v22h-22zM1533 836h22v22h-22zM1467 881h22v22h-22zM1356 925h22v22h-22zM1289 947h22v22h-22zM1200 969h45v22h-45zM1045 991h44v23h-44zM801 1014h67v22h-67zM757 1036h22v22h-22z"/>
<path fill="#ec7b5b" d="M1577 792h23v22h-23zM1555 814h22v22h-22zM1156 969h44v22h-44zM823 991h222v23h-222zM779 1014h22v22h-22z"/>
<path fill="#ec7b55" d="M1489 858h22v23h-22zM1400 903h22v22h-22zM1333 925h23v22h-23zM1267 947h22v22h-22zM1112 969h44v22h-44z"/>
<path fill="#eb7c4e" d="M1622 725h22v23h-22zM1444 881h23v22h-23zM1311 925h22v22h-22zM1223 947h44v22h-44zM845 969h89v22h-89zM1067 969h45v22h-45z"/>
<path fill="#eb7c48" d="M1511 836h22v22h-22zM1378 903h22v22h-22zM1289 925h22v22h-22zM890 947h22v22h-22zM1178 947h45v22h-45zM934 969h67v22h-67zM1023 969h44v22h-44z"/>
<path fill="#ea7b41" d="M1600 748h22v22h-22zM1577 770h23v22h-23zM1555 792h22v22h-22zM1533 814h22v22h-22zM1356 903h22v22h-22zM1267 925h22v22h-22zM912 947h44v22h-44zM1134 947h44v22h-44zM1001 969h22v22h-22z"/>
<path fill="#ea7a3a" d="M1467 858h22v23h-22zM1422 881h22v22h-22zM1333 903h23v22h-23zM1223 925h44v22h-44zM956 947h22v22h-22zM1089 947h45v22h-45z"/>
<path fill="#e97832" d="M1311 903h22v22h-22zM934 925h22v22h-22zM1200 925h23v22h-23zM978 947h23v22h-23zM1045 947h44v22h-44z"/>
<path fill="#e9772b" d="M1622 703h22v22h-22zM1533 792h22v22h-22zM1511 814h22v22h-22zM1489 836h22v22h-22zM1400 881h22v22h-22zM1289 903h22v22h-22zM956 925h22v22h-22zM1134 925h66v22h-66zM1001 947h44v22h-44z"/>
<path fill="#e87624" d="M1555 770h22v22h-22zM1378 881h22v22h-22zM1245 903h44v22h-44zM1089 925h45v22h-45z"/>
<path fill="#e7751d" d="M1577 748h23v22h-23zM1444 858h23v23h-23zM1356 881h22v22h-22zM1200 903h45v22h-45zM978 925h23v22h-23zM1067 925h22v22h-22z"/>
<path fill="#e67416" d="M1600 725h22v23h-22zM1333 881h23v22h-23zM978 903h23v22h-23zM1156 903h44v22h-44zM1001 925h66v22h-66z"/>
<path fill="#e5740e" d="M1511 792h22v22h-22zM1467 836h22v22h-22zM1422 858h22v23h-22zM1267 881h66v22h-66zM1112 903h44v22h-44z"/>
<path fill="#e47307" d="M1533 770h22v22h-22zM1489 814h22v22h-22zM1223 881h44v22h-44zM1001 903h22v22h-22zM1067 903h45v22h-45z"/>
<path fill="#e37200" d="M1400 858h22v23h-22zM1178 881h45v22h-45zM1023 903h44v22h-44z"/>
<path fill="#e06c02" d="M1555 748h22v22h-22zM1444 836h23v22h-23zM1378 858h22v23h-22zM1023 881h66v22h-66zM1134 881h44v22h-44z"/>
<path fill="#de6603" d="M1577 725h23v23h-23zM1489 792h22v22h-22zM1467 814h22v22h-22zM1422 836h22v22h-22zM1311 858h67v23h-67zM1089 881h45v22h-45z"/>
<path fill="#db6005" d="M1600 703h22v22h-22zM1067 858h45v23h-45zM1223 858h88v23h-88z"/>
<path fill="#d95a06" d="M1511 770h22v22h-22zM1444 814h23v22h-23zM1400 836h22v22h-22zM1112 858h111v23h-111z"/>
<path fill="#d65408" d="M1467 792h22v22h-22zM1422 814h22v22h-22zM1378 836h22v22h-22z"/>
<path fill="#d34e09" d="M1533 748h22v22h-22zM1112 836h111v22h-111zM1356 836h22v22h-22z"/>
<path fill="#d0490a" d="M1489 770h22v22h-22zM1178 814h22v22h-22zM1223 836h133v22h-133z"/>
<path fill="#ce430c" d="M1444 792h23v22h-23zM1200 814h23v22h-23zM1400 814h22v22h-22z"/>
<path fill="#cb3e0d" d="M1555 725h22v23h-22zM1467 770h22v22h-22zM1223 814h22v22h-22zM1378 814h22v22h-22z"/>
<path fill="#c8380e" d="M1223 792h22v22h-22zM1422 792h22v22h-22zM1245 814h133v22h-133z"/>
<path fill="#c5320f" d="M1245 792h44v22h-44z"/>
<path fill="#c22d10" d="M1577 703h23v22h-23zM1511 748h22v22h-22zM1289 792h67v22h-67zM1378 792h44v22h-44z"/>
<path fill="#c02712" d="M1289 770h44v22h-44zM1356 792h22v22h-22z"/>
<path fill="#bd2213" d="M1333 770h23v22h-23zM1444 770h23v22h-23z"/>
<path fill="#ba1c14" d="M1356 770h44v22h-44zM1422 770h22v22h-22z"/>
<path fill="#b61714" d="M1356 748h22v22h-22zM1400 770h22v22h-22z"/>
<path fill="#b31215" d="M1533 725h22v23h-22zM1489 748h22v22h-22z"/>
<path fill="#af0e15" d="M1555 703h22v22h-22zM1467 748h22v22h-22z"/>
<path fill="#ac0916" d="M1511 725h22v23h-22zM1378 748h89v22h-89z"/>
<path fill="#a80416" d="M1533 703h22v22h-22zM1422 725h89v23h-89z"/>
</g>
<g stroke="#00ff00" stroke-width="1.8" fill="none">
<path d="M1633.7 182.0L1689.2 679.1M1622.1 182.0L1679.5 680.5M1604.6 182.0L1664.8 682.6M1593.0 182.0L1655.1 684.0M1575.6 182.0L1640.6 686.3M1564.0 182.0L1630.9 688.0M1546.5 182.0L1616.5 690.6M1534.9 182.0L1606.8 692.4M1517.5 182.0L1592.4 695.0M1505.8 182.0L1582.8 696.8M1488.4 182.0L1568.5 699.4M1476.8 182.0L1558.9 701.1M1459.3 182.0L1544.6 703.7M1447.7 182.0L1535.0 705.4M1430.3 182.0L1520.8 708.3M1418.7 182.0L1511.3 710.2M1401.2 182.0L1497.1 713.0M1389.6 182.0L1487.7 714.9M1372.2 182.0L1473.5 717.7M1360.6 182.0L1464.1 719.6M1343.1 182.0L1450.0 722.4M1331.5 182.0L1440.7 724.3M1314.1 182.0L1426.6 727.1M1302.4 182.0L1417.5 730.0M1285.0 182.0L1403.9 734.6M1273.4 182.0L1394.8 737.8M1255.9 182.0L1381.3 742.4M1244.3 182.0L1372.3 745.5M1226.9 182.0L1358.9 750.1M1215.3 182.0L1349.9 753.0M1197.8 182.0L1336.4 757.3M1186.2 182.0L1327.5 760.1M1168.8 182.0L1314.1 764.4M1157.1 182.0L1305.2 767.2M1139.7 182.0L1291.9 771.5M1128.1 182.0L1283.0 774.3M1110.6 182.0L1269.8 778.5M1099.0 182.0L1261.0 781.4M1081.6 182.0L1248.0 786.1M1070.0 182.0L1239.4 789.5M1052.5 182.0L1226.5 794.6M1040.9 182.0L1218.0 798.0M1023.5 182.0L1205.2 803.0M1011.8 182.0L1196.7 806.4M994.4 182.0L1184.0 811.4M982.8 182.0L1175.6 814.7M965.4 182.0L1163.0 819.7M953.7 182.0L1154.7 823.2M936.3 182.0L1142.3 828.7M924.7 182.0L1134.0 832.3M907.2 182.0L1121.7 837.7M895.6 182.0L1113.6 841.3M878.2 182.0L1101.3 846.6M866.6 182.0L1093.2 850.2M849.1 182.0L1081.1 855.5M837.5 182.0L1073.0 859.1M820.1 182.0L1061.0 864.6M808.4 182.0L1053.1 868.4M791.0 182.0L1041.3 874.0M779.4 182.0L1033.4 877.8M761.9 182.0L1021.6 883.4M750.3 182.0L1013.8 887.1M732.9 182.0L1002.1 892.6M721.3 182.0L994.3 896.3M703.8 182.0L982.7 901.8M692.2 182.0L975.1 905.8M674.8 182.0L963.9 911.8M663.1 182.0L956.4 915.9M645.7 182.0L945.2 921.9M634.1 182.0L937.7 925.9M616.7 182.0L926.6 931.9M605.0 182.0L919.2 935.9M587.6 182.0L908.2 941.8M576.0 182.0L900.9 945.8M558.5 182.0L890.0 951.9M546.9 182.0L882.9 956.2M529.5 182.0L872.4 962.7M517.9 182.0L865.3 967.0M500.4 182.0L854.8 973.4M488.8 182.0L847.9 977.7M471.4 182.0L837.4 984.1M459.7 182.0L830.5 988.3M442.3 182.0L820.2 994.6M430.7 182.0L813.4 998.8M413.2 182.0L803.1 1005.1M401.6 182.0L796.4 1009.4M384.2 182.0L786.6 1016.3M372.6 182.0L780.0 1020.9M355.1 182.0L770.3 1027.7M343.5 182.0L763.8 1032.2M326.1 182.0L754.2 1039.0M314.4 182.0L747.7 1043.4M297.0 182.0L738.2 1050.1M283.3 182.0L730.7 1055.3M279.7 203.1L722.9 1061.1M279.7 230.8L715.2 1066.9M279.7 258.0L707.5 1072.7M279.7 284.8L699.9 1078.4M279.7 311.2L692.3 1084.1M279.7 337.1L684.7 1089.8M279.7 362.7L677.1 1095.5M279.7 387.8L669.6 1101.1M279.7 412.6L662.2 1106.7M279.7 436.9L654.7 1112.3M279.7 460.9L647.3 1117.8M279.7 484.5L639.9 1123.4M279.7 507.8L632.6 1128.9M279.7 530.7L625.3 1134.3M279.7 553.3L618.0 1139.8M279.7 575.5L610.8 1145.2M279.7 597.4L603.6 1150.6M279.7 619.0L596.4 1156.0M279.7 640.3L589.3 1161.4M279.7 661.2L582.1 1166.7M279.7 681.9L575.3 1172.5M279.7 702.3L568.8 1178.5M279.7 722.4L562.2 1184.6M279.7 742.2L555.7 1190.6M279.7 761.7L549.3 1196.6M279.7 781.0L542.8 1202.5M279.7 800.0L536.4 1208.4M279.7 818.7L530.1 1214.3M279.7 837.2L523.7 1220.2M279.7 855.4L517.4 1226.0M279.7 873.4L511.1 1231.8M279.7 891.2L504.9 1237.6"/>
</g>
<path d="M277.5 1485.2L283.3 1479.4L289.1 1467.9L294.9 1462.1L300.7 1456.3L306.5 1450.6L312.4 1439.0L318.2 1433.3L324.0 1427.5L329.8 1421.7L335.6 1416.0L341.4 1404.4L347.2 1398.7L353.0 1392.9L358.9 1387.1L364.7 1381.4L370.5 1375.6L376.3 1364.1L382.1 1358.3L387.9 1352.5L393.7 1346.8L399.5 1341.0L405.3 1335.2L411.2 1329.5L417.0 1323.7L422.8 1317.9L428.6 1312.2L434.4 1306.4L440.2 1300.6L446.0 1294.9L451.8 1289.1L457.7 1283.3L463.5 1277.6L469.3 1271.8L475.1 1266.0L480.9 1260.3L486.7 1254.5L492.5 1248.8L498.3 1243.0L504.2 1237.2L510.0 1231.5L515.8 1225.7L521.6 1219.9L527.4 1214.2L533.2 1214.2L539.0 1208.4L544.8 1202.6L550.7 1196.9L556.5 1191.1L562.3 1185.3L568.1 1179.6L573.9 1173.8L579.7 1168.0L585.5 1162.3L591.3 1162.3L597.1 1156.5L603.0 1150.7L608.8 1145.0L614.6 1145.0L620.4 1139.2L626.2 1133.4L632.0 1127.7L637.8 1127.7L643.6 1121.9L649.5 1116.1L655.3 1110.4L661.1 1110.4L666.9 1104.6L672.7 1098.8L678.5 1093.1L684.3 1087.3L690.1 1087.3L696.0 1081.5L701.8 1075.8L707.6 1070.0L713.4 1070.0L719.2 1064.2L725.0 1058.5L730.8 1052.7L736.6 1052.7L742.5 1046.9L748.3 1041.2L754.1 1041.2L759.9 1035.4L765.7 1029.6L771.5 1029.6L777.3 1023.9L783.1 1018.1L789.0 1012.3L794.8 1012.3L800.6 1006.6L806.4 1000.8L812.2 1000.8L818.0 995.0L823.8 995.0L829.6 989.3L835.4 983.5L841.3 983.5L847.1 977.7L852.9 972.0L858.7 972.0L864.5 966.2L870.3 966.2L876.1 960.4L881.9 954.7L887.8 954.7L893.6 948.9L899.4 948.9L905.2 943.1L911.0 943.1L916.8 937.4L922.6 931.6L928.4 931.6L934.3 925.8L940.1 925.8L945.9 920.1L951.7 920.1L957.5 914.3L963.3 914.3L969.1 908.5L974.9 908.5L980.8 902.8L986.6 902.8L992.4 897.0L998.2 897.0L1004.0 891.2L1009.8 891.2L1015.6 885.5L1021.4 885.5L1027.2 879.7L1033.1 879.7L1038.9 873.9L1044.7 873.9L1050.5 868.2L1056.3 868.2L1062.1 862.4L1067.9 862.4L1073.7 856.6L1079.6 856.6L1085.4 850.9L1091.2 850.9L1097.0 850.9L1102.8 845.1L1108.6 845.1L1114.4 839.3L1120.2 839.3L1126.1 833.6L1131.9 833.6L1137.7 827.8L1143.5 827.8L1149.3 827.8L1155.1 822.1L1160.9 822.1L1166.7 816.3L1172.6 816.3L1178.4 816.3L1184.2 810.5L1190.0 810.5L1195.8 804.8L1201.6 804.8L1207.4 804.8L1213.2 799.0L1219.0 799.0L1224.9 793.2L1230.7 793.2L1236.5 793.2L1242.3 787.5L1248.1 787.5L1253.9 781.7L1259.7 781.7L1265.5 781.7L1271.4 775.9L1277.2 775.9L1283.0 775.9L1288.8 770.2L1294.6 770.2L1300.4 770.2L1306.2 764.4L1312.0 764.4L1317.9 764.4L1323.7 758.6L1329.5 758.6L1335.3 758.6L1341.1 758.6L1346.9 752.9L1352.7 752.9L1358.5 752.9L1364.4 747.1L1370.2 747.1L1376.0 747.1L1381.8 741.3L1387.6 741.3L1393.4 735.6L1399.2 735.6L1405.0 735.6L1410.8 729.8L1416.7 729.8L1422.5 729.8L1428.3 724.0L1434.1 724.0L1439.9 724.0L1445.7 724.0L1451.5 724.0L1457.3 718.3L1463.2 718.3L1469.0 718.3L1474.8 718.3L1480.6 718.3L1486.4 712.5L1492.2 712.5L1498.0 712.5L1503.8 712.5L1509.7 712.5L1515.5 706.7L1521.3 706.7L1527.1 706.7L1532.9 706.7L1538.7 706.7L1544.5 701.0L1550.3 701.0L1556.2 701.0L1562.0 701.0L1567.8 701.0L1573.6 701.0L1579.4 695.2L1585.2 695.2L1591.0 695.2L1596.8 695.2L1602.7 695.2L1608.5 689.4L1614.3 689.4L1620.1 689.4L1625.9 689.4L1631.7 689.4L1637.5 689.4L1643.3 683.7L1649.1 683.7L1655.0 683.7L1660.8 683.7L1666.6 683.7L1672.4 683.7L1678.2 677.9L1684.0 677.9L1689.8 677.9L1695.6 677.9L1701.5 677.9L1707.3 677.9L1713.1 677.9L1718.9 677.9L1724.7 672.1L1730.5 672.1L1736.3 672.1L1742.1 672.1L1748.0 672.1L1753.8 672.1L1759.6 672.1L1765.4 672.1L1771.2 672.1L1777.0 666.4L1782.8 666.4L1788.6 666.4L1794.5 666.4L1800.3 666.4L1806.1 666.4L1811.9 666.4L1817.7 666.4L1823.5 666.4L1829.3 666.4L1835.1 666.4L1840.9 666.4L1846.8 666.4L1852.6 660.6L1858.4 660.6L1864.2 660.6L1870.0 660.6L1875.8 660.6L1881.6 660.6L1887.4 660.6L1893.3 660.6L1899.1 660.6L1904.9 660.6L1910.7 660.6L1916.5 660.6L1922.3 660.6L1928.1 660.6L1933.9 660.6L1939.8 660.6L1945.6 660.6L1951.4 660.6L1957.2 660.6L1963.0 660.6L1968.8 660.6L1974.6 660.6L1980.4 660.6L1986.3 660.6L1992.1 660.6L1997.9 660.6L2003.7 660.6L2009.5 660.6L2015.3 660.6L2021.1 660.6L2026.9 660.6L2032.7 660.6L2038.6 660.6L2044.4 660.6L2050.2 666.4L2056.0 666.4L2061.8 666.4" stroke="#0000ff" stroke-width="1.7" fill="none" stroke-linejoin="round"/>
<g stroke="#0000ff" fill="none">
<path stroke-width="1.3" d="M285.0 170.0l24 24M285.0 194.0l24 -24M314.4 158.0v48M302.4 170.0l24 24M302.4 194.0l24 -24M314.1 170.0l24 24M314.1 194.0l24 -24M343.5 158.0v48M331.5 170.0l24 24M331.5 194.0l24 -24M343.1 170.0l24 24M343.1 194.0l24 -24M372.6 158.0v48M360.6 170.0l24 24M360.6 194.0l24 -24M372.2 170.0l24 24M372.2 194.0l24 -24M401.6 158.0v48M389.6 170.0l24 24M389.6 194.0l24 -24M401.2 170.0l24 24M401.2 194.0l24 -24M430.7 158.0v48M418.7 170.0l24 24M418.7 194.0l24 -24M430.3 170.0l24 24M430.3 194.0l24 -24M459.7 158.0v48M447.7 170.0l24 24M447.7 194.0l24 -24M459.4 170.0l24 24M459.4 194.0l24 -24M488.8 158.0v48M476.8 170.0l24 24M476.8 194.0l24 -24M488.4 170.0l24 24M488.4 194.0l24 -24M517.9 158.0v48M505.9 170.0l24 24M505.9 194.0l24 -24M517.5 170.0l24 24M517.5 194.0l24 -24M546.9 158.0v48M534.9 170.0l24 24M534.9 194.0l24 -24M546.5 170.0l24 24M546.5 194.0l24 -24M576.0 158.0v48M564.0 170.0l24 24M564.0 194.0l24 -24M575.6 170.0l24 24M575.6 194.0l24 -24M605.0 158.0v48M593.0 170.0l24 24M593.0 194.0l24 -24M604.7 170.0l24 24M604.7 194.0l24 -24M634.1 158.0v48M622.1 170.0l24 24M622.1 194.0l24 -24M633.7 170.0l24 24M633.7 194.0l24 -24M663.1 158.0v48M651.1 170.0l24 24M651.1 194.0l24 -24M662.8 170.0l24 24M662.8 194.0l24 -24M692.2 158.0v48M680.2 170.0l24 24M680.2 194.0l24 -24M691.8 170.0l24 24M691.8 194.0l24 -24M721.3 158.0v48M709.3 170.0l24 24M709.3 194.0l24 -24M720.9 170.0l24 24M720.9 194.0l24 -24M750.3 158.0v48M738.3 170.0l24 24M738.3 194.0l24 -24M749.9 170.0l24 24M749.9 194.0l24 -24M779.4 158.0v48M767.4 170.0l24 24M767.4 194.0l24 -24M779.0 170.0l24 24M779.0 194.0l24 -24M808.4 158.0v48M796.4 170.0l24 24M796.4 194.0l24 -24M808.1 170.0l24 24M808.1 194.0l24 -24M837.5 158.0v48M825.5 170.0l24 24M825.5 194.0l24 -24M837.1 170.0l24 24M837.1 194.0l24 -24M866.6 158.0v48M854.6 170.0l24 24M854.6 194.0l24 -24M866.2 170.0l24 24M866.2 194.0l24 -24M895.6 158.0v48M883.6 170.0l24 24M883.6 194.0l24 -24M895.2 170.0l24 24M895.2 194.0l24 -24M924.7 158.0v48M912.7 170.0l24 24M912.7 194.0l24 -24M924.3 170.0l24 24M924.3 194.0l24 -24M953.7 158.0v48M941.7 170.0l24 24M941.7 194.0l24 -24M953.4 170.0l24 24M953.4 194.0l24 -24M982.8 158.0v48M970.8 170.0l24 24M970.8 194.0l24 -24M982.4 170.0l24 24M982.4 194.0l24 -24M1011.8 158.0v48M999.8 170.0l24 24M999.8 194.0l24 -24M1011.5 170.0l24 24M1011.5 194.0l24 -24M1040.9 158.0v48M1028.9 170.0l24 24M1028.9 194.0l24 -24M1040.5 170.0l24 24M1040.5 194.0l24 -24M1070.0 158.0v48M1058.0 170.0l24 24M1058.0 194.0l24 -24M1069.6 170.0l24 24M1069.6 194.0l24 -24M1099.0 158.0v48M1087.0 170.0l24 24M1087.0 194.0l24 -24M1098.6 170.0l24 24M1098.6 194.0l24 -24M1128.1 158.0v48M1116.1 170.0l24 24M1116.1 194.0l24 -24M1127.7 170.0l24 24M1127.7 194.0l24 -24M1157.1 158.0v48M1145.1 170.0l24 24M1145.1 194.0l24 -24M1156.8 170.0l24 24M1156.8 194.0l24 -24M1186.2 158.0v48M1174.2 170.0l24 24M1174.2 194.0l24 -24M1185.8 170.0l24 24M1185.8 194.0l24 -24M1215.3 158.0v48M1203.3 170.0l24 24M1203.3 194.0l24 -24M1214.9 170.0l24 24M1214.9 194.0l24 -24M1244.3 158.0v48M1232.3 170.0l24 24M1232.3 194.0l24 -24M1243.9 170.0l24 24M1243.9 194.0l24 -24M1273.4 158.0v48M1261.4 170.0l24 24M1261.4 194.0l24 -24M1273.0 170.0l24 24M1273.0 194.0l24 -24M1302.4 158.0v48M1290.4 170.0l24 24M1290.4 194.0l24 -24M1302.1 170.0l24 24M1302.1 194.0l24 -24M1331.5 158.0v48M1319.5 170.0l24 24M1319.5 194.0l24 -24M1331.1 170.0l24 24M1331.1 194.0l24 -24M1360.6 158.0v48M1348.6 170.0l24 24M1348.6 194.0l24 -24M1360.2 170.0l24 24M1360.2 194.0l24 -24M1389.6 158.0v48M1377.6 170.0l24 24M1377.6 194.0l24 -24M1389.2 170.0l24 24M1389.2 194.0l24 -24M1418.7 158.0v48M1406.7 170.0l24 24M1406.7 194.0l24 -24M1418.3 170.0l24 24M1418.3 194.0l24 -24M1447.7 158.0v48M1435.7 170.0l24 24M1435.7 194.0l24 -24M1447.3 170.0l24 24M1447.3 194.0l24 -24M1476.8 158.0v48M1464.8 170.0l24 24M1464.8 194.0l24 -24M1476.4 170.0l24 24M1476.4 194.0l24 -24M1505.8 158.0v48M1493.8 170.0l24 24M1493.8 194.0l24 -24M1505.5 170.0l24 24M1505.5 194.0l24 -24M1534.9 158.0v48M1522.9 170.0l24 24M1522.9 194.0l24 -24M1534.5 170.0l24 24M1534.5 194.0l24 -24M1564.0 158.0v48M1552.0 170.0l24 24M1552.0 194.0l24 -24M1563.6 170.0l24 24M1563.6 194.0l24 -24M1593.0 158.0v48M1581.0 170.0l24 24M1581.0 194.0l24 -24M1592.6 170.0l24 24M1592.6 194.0l24 -24M1622.1 158.0v48M1610.1 170.0l24 24M1610.1 194.0l24 -24M1621.7 170.0l24 24M1621.7 194.0l24 -24"/>
<path stroke-width="2.2" d="M297.0 158.0v48M326.1 158.0v48M355.1 158.0v48M384.2 158.0v48M413.2 158.0v48M442.3 158.0v48M471.4 158.0v48M500.4 158.0v48M529.5 158.0v48M558.5 158.0v48M587.6 158.0v48M616.7 158.0v48M645.7 158.0v48M674.8 158.0v48M703.8 158.0v48M732.9 158.0v48M761.9 158.0v48M791.0 158.0v48M820.1 158.0v48M849.1 158.0v48M878.2 158.0v48M907.2 158.0v48M936.3 158.0v48M965.4 158.0v48M994.4 158.0v48M1023.5 158.0v48M1052.5 158.0v48M1081.6 158.0v48M1110.6 158.0v48M1139.7 158.0v48M1168.8 158.0v48M1197.8 158.0v48M1226.9 158.0v48M1255.9 158.0v48M1285.0 158.0v48M1314.1 158.0v48M1343.1 158.0v48M1372.2 158.0v48M1401.2 158.0v48M1430.3 158.0v48M1459.3 158.0v48M1488.4 158.0v48M1517.5 158.0v48M1546.5 158.0v48M1575.6 158.0v48M1604.6 158.0v48M1633.7 158.0v48M315.2 169.0l10 10M315.2 179.0l10 -10M315.2 185.0l10 10M315.2 195.0l10 -10M344.3 169.0l10 10M344.3 179.0l10 -10M344.3 185.0l10 10M344.3 195.0l10 -10M373.3 169.0l10 10M373.3 179.0l10 -10M373.3 185.0l10 10M373.3 195.0l10 -10M402.4 169.0l10 10M402.4 179.0l10 -10M402.4 185.0l10 10M402.4 195.0l10 -10M431.5 169.0l10 10M431.5 179.0l10 -10M431.5 185.0l10 10M431.5 195.0l10 -10M460.5 169.0l10 10M460.5 179.0l10 -10M460.5 185.0l10 10M460.5 195.0l10 -10M489.6 169.0l10 10M489.6 179.0l10 -10M489.6 185.0l10 10M489.6 195.0l10 -10M518.6 169.0l10 10M518.6 179.0l10 -10M518.6 185.0l10 10M518.6 195.0l10 -10M547.7 169.0l10 10M547.7 179.0l10 -10M547.7 185.0l10 10M547.7 195.0l10 -10M576.8 169.0l10 10M576.8 179.0l10 -10M576.8 185.0l10 10M576.8 195.0l10 -10M605.8 169.0l10 10M605.8 179.0l10 -10M605.8 185.0l10 10M605.8 195.0l10 -10M634.9 169.0l10 10M634.9 179.0l10 -10M634.9 185.0l10 10M634.9 195.0l10 -10M663.9 169.0l10 10M663.9 179.0l10 -10M663.9 185.0l10 10M663.9 195.0l10 -10M693.0 169.0l10 10M693.0 179.0l10 -10M693.0 185.0l10 10M693.0 195.0l10 -10M722.0 169.0l10 10M722.0 179.0l10 -10M722.0 185.0l10 10M722.0 195.0l10 -10M751.1 169.0l10 10M751.1 179.0l10 -10M751.1 185.0l10 10M751.1 195.0l10 -10M780.2 169.0l10 10M780.2 179.0l10 -10M780.2 185.0l10 10M780.2 195.0l10 -10M809.2 169.0l10 10M809.2 179.0l10 -10M809.2 185.0l10 10M809.2 195.0l10 -10M838.3 169.0l10 10M838.3 179.0l10 -10M838.3 185.0l10 10M838.3 195.0l10 -10M867.3 169.0l10 10M867.3 179.0l10 -10M867.3 185.0l10 10M867.3 195.0l10 -10M896.4 169.0l10 10M896.4 179.0l10 -10M896.4 185.0l10 10M896.4 195.0l10 -10M925.5 169.0l10 10M925.5 179.0l10 -10M925.5 185.0l10 10M925.5 195.0l10 -10M954.5 169.0l10 10M954.5 179.0l10 -10M954.5 185.0l10 10M954.5 195.0l10 -10M983.6 169.0l10 10M983.6 179.0l10 -10M983.6 185.0l10 10M983.6 195.0l10 -10M1012.6 169.0l10 10M1012.6 179.0l10 -10M1012.6 185.0l10 10M1012.6 195.0l10 -10M1041.7 169.0l10 10M1041.7 179.0l10 -10M1041.7 185.0l10 10M1041.7 195.0l10 -10M1070.7 169.0l10 10M1070.7 179.0l10 -10M1070.7 185.0l10 10M1070.7 195.0l10 -10M1099.8 169.0l10 10M1099.8 179.0l10 -10M1099.8 185.0l10 10M1099.8 195.0l10 -10M1128.9 169.0l10 10M1128.9 179.0l10 -10M1128.9 185.0l10 10M1128.9 195.0l10 -10M1157.9 169.0l10 10M1157.9 179.0l10 -10M1157.9 185.0l10 10M1157.9 195.0l10 -10M1187.0 169.0l10 10M1187.0 179.0l10 -10M1187.0 185.0l10 10M1187.0 195.0l10 -10M1216.0 169.0l10 10M1216.0 179.0l10 -10M1216.0 185.0l10 10M1216.0 195.0l10 -10M1245.1 169.0l10 10M1245.1 179.0l10 -10M1245.1 185.0l10 10M1245.1 195.0l10 -10M1274.2 169.0l10 10M1274.2 179.0l10 -10M1274.2 185.0l10 10M1274.2 195.0l10 -10M1303.2 169.0l10 10M1303.2 179.0l10 -10M1303.2 185.0l10 10M1303.2 195.0l10 -10M1332.3 169.0l10 10M1332.3 179.0l10 -10M1332.3 185.0l10 10M1332.3 195.0l10 -10M1361.3 169.0l10 10M1361.3 179.0l10 -10M1361.3 185.0l10 10M1361.3 195.0l10 -10M1390.4 169.0l10 10M1390.4 179.0l10 -10M1390.4 185.0l10 10M1390.4 195.0l10 -10M1419.4 169.0l10 10M1419.4 179.0l10 -10M1419.4 185.0l10 10M1419.4 195.0l10 -10M1448.5 169.0l10 10M1448.5 179.0l10 -10M1448.5 185.0l10 10M1448.5 195.0l10 -10M1477.6 169.0l10 10M1477.6 179.0l10 -10M1477.6 185.0l10 10M1477.6 195.0l10 -10M1506.6 169.0l10 10M1506.6 179.0l10 -10M1506.6 185.0l10 10M1506.6 195.0l10 -10M1535.7 169.0l10 10M1535.7 179.0l10 -10M1535.7 185.0l10 10M1535.7 195.0l10 -10M1564.7 169.0l10 10M1564.7 179.0l10 -10M1564.7 185.0l10 10M1564.7 195.0l10 -10M1593.8 169.0l10 10M1593.8 179.0l10 -10M1593.8 185.0l10 10M1593.8 195.0l10 -10M1622.9 169.0l10 10M1622.9 179.0l10 -10M1622.9 185.0l10 10M1622.9 195.0l10 -10"/>
<path stroke-width="2" d="M272.7 182.0H279.7"/>
</g>
<g stroke="#000" fill="none">
<path stroke-width="2.2" d="M278.9 182.0H2055.4M278.9 2178.0H2055.4"/>
<path stroke-width="1.5" d="M279.7 182.0V2178.0"/>
<path stroke-width="2" d="M2054.4 182.0V2178.0"/>
<path stroke-width="2" d="M723.4 2178.0v-24.0M723.4 182.0v19.5M1167.0 2178.0v-24.0M1167.0 182.0v19.5M1610.7 2178.0v-24.0M1610.7 182.0v19.5"/>
<path stroke-width="1.5" d="M279.7 403.8h18.5M2054.4 403.8h-18.5M279.7 625.6h18.5M2054.4 625.6h-18.5M279.7 847.3h18.5M2054.4 847.3h-18.5M279.7 1069.1h18.5M2054.4 1069.1h-18.5M279.7 1290.9h18.5M2054.4 1290.9h-18.5M279.7 1512.7h18.5M2054.4 1512.7h-18.5M279.7 1734.4h18.5M2054.4 1734.4h-18.5M279.7 1956.2h18.5M2054.4 1956.2h-18.5"/>
</g>
<g font-size="80">
<text transform="translate(258.5 204.3) scale(0.950 1)" text-anchor="end">0</text>
<text transform="translate(258.5 426.1) scale(0.950 1)" text-anchor="end">-10</text>
<text transform="translate(258.5 647.9) scale(0.950 1)" text-anchor="end">-20</text>
<text transform="translate(258.5 869.6) scale(0.950 1)" text-anchor="end">-30</text>
<text transform="translate(258.5 1091.4) scale(0.950 1)" text-anchor="end">-40</text>
<text transform="translate(258.5 1313.2) scale(0.950 1)" text-anchor="end">-50</text>
<text transform="translate(258.5 1535.0) scale(0.950 1)" text-anchor="end">-60</text>
<text transform="translate(258.5 1756.7) scale(0.950 1)" text-anchor="end">-70</text>
<text transform="translate(258.5 1978.5) scale(0.950 1)" text-anchor="end">-80</text>
<text transform="translate(258.5 2200.3) scale(0.950 1)" text-anchor="end">-90</text>
<text transform="translate(268.8 2264.0) scale(0.950 1)" text-anchor="middle">-20</text>
<text transform="translate(727.1 2264.0) scale(0.950 1)" text-anchor="middle">0</text>
<text transform="translate(1167.0 2264.0) scale(0.950 1)" text-anchor="middle">20</text>
<text transform="translate(1610.0 2264.0) scale(0.950 1)" text-anchor="middle">40</text>
<text transform="translate(2053.5 2264.0) scale(0.950 1)" text-anchor="middle">60</text>
<text transform="translate(1159.0 2362.0) scale(0.950 1)" text-anchor="middle">x(mm)</text>
<text transform="translate(86.0 1190.0) rotate(-90) scale(0.950 1)" text-anchor="middle">z(mm)</text>
<text transform="translate(1160.5 116.0) scale(0.950 1)" text-anchor="middle">Insonification map PW</text>
<text transform="translate(2251.0 117.0) scale(0.950 1)" text-anchor="middle">dB</text>
<text transform="translate(2351.0 204.3) scale(0.950 1)" text-anchor="start">0</text>
<text transform="translate(2351.0 536.7) scale(0.950 1)" text-anchor="start">-2</text>
<text transform="translate(2351.0 869.1) scale(0.950 1)" text-anchor="start">-4</text>
<text transform="translate(2351.0 1201.5) scale(0.950 1)" text-anchor="start">-6</text>
<text transform="translate(2351.0 1533.9) scale(0.950 1)" text-anchor="start">-8</text>
<text transform="translate(2351.0 1866.3) scale(0.950 1)" text-anchor="start">-10</text>
<text transform="translate(2351.0 2206.0) scale(0.950 1)" text-anchor="start">-12</text>
</g>
<defs><linearGradient id="cb" x1="0" y1="0" x2="0" y2="1">
<stop offset="-0.0000" stop-color="#a80416"/>
<stop offset="0.0415" stop-color="#ba1c14"/>
<stop offset="0.0831" stop-color="#c8380e"/>
<stop offset="0.1246" stop-color="#d65408"/>
<stop offset="0.1661" stop-color="#e37200"/>
<stop offset="0.2076" stop-color="#e87624"/>
<stop offset="0.2492" stop-color="#eb7c48"/>
<stop offset="0.2907" stop-color="#ed7a68"/>
<stop offset="0.3322" stop-color="#f59b50"/>
<stop offset="0.3655" stop-color="#fab52e"/>
<stop offset="0.3987" stop-color="#ffce00"/>
<stop offset="0.4319" stop-color="#fff200"/>
<stop offset="0.4709" stop-color="#c4e000"/>
<stop offset="0.4984" stop-color="#96ce30"/>
<stop offset="0.5316" stop-color="#5cbb58"/>
<stop offset="0.5548" stop-color="#00b168"/>
<stop offset="0.5731" stop-color="#00a878"/>
<stop offset="0.5980" stop-color="#009080"/>
<stop offset="0.6312" stop-color="#007084"/>
<stop offset="0.6645" stop-color="#004c84"/>
<stop offset="0.6894" stop-color="#002c80"/>
<stop offset="0.7168" stop-color="#000880"/>
<stop offset="0.7417" stop-color="#002096"/>
<stop offset="0.7666" stop-color="#0040aa"/>
<stop offset="0.7907" stop-color="#0560be"/>
<stop offset="0.8073" stop-color="#1e6ec6"/>
<stop offset="0.8306" stop-color="#2888d6"/>
<stop offset="0.8563" stop-color="#38a4ea"/>
<stop offset="0.8729" stop-color="#56aeec"/>
<stop offset="0.8979" stop-color="#7cbef0"/>
<stop offset="0.9219" stop-color="#9cd0f4"/>
<stop offset="0.9469" stop-color="#c0def8"/>
<stop offset="0.9718" stop-color="#e0eefc"/>
<stop offset="0.9967" stop-color="#ffffff"/>
</linearGradient></defs>
<rect x="2176.3" y="182.0" width="158.1" height="2001.0" fill="url(#cb)" stroke="#000" stroke-width="1.4"/>
<path d="M2176.3 514.4h18M2334.4 514.4h-23M2176.3 846.8h18M2334.4 846.8h-23M2176.3 1179.2h18M2334.4 1179.2h-23M2176.3 1511.6h18M2334.4 1511.6h-23M2176.3 1844.0h18M2334.4 1844.0h-23" stroke="#000" stroke-width="1.5" fill="none"/>
</svg></body></html>
